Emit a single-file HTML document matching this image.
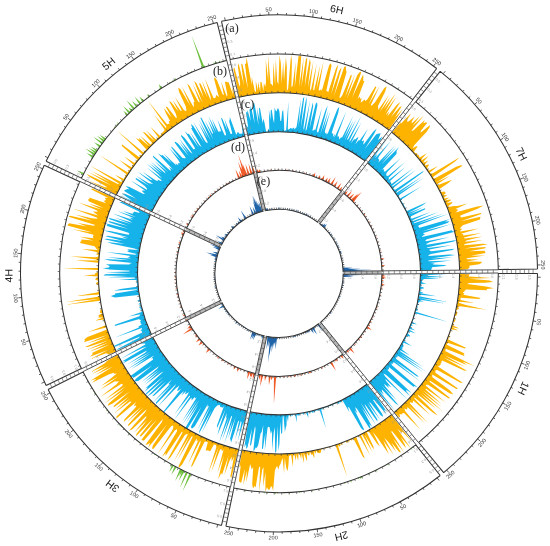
<!DOCTYPE html>
<html><head><meta charset="utf-8"><style>
html,body{margin:0;padding:0;background:#fff;width:550px;height:546px;overflow:hidden}
svg{display:block}
.tl{font-family:"Liberation Sans",sans-serif;font-size:5.5px;fill:#333;text-anchor:middle;dominant-baseline:central}
.cl{font-family:"Liberation Sans",sans-serif;font-size:10.5px;fill:#1a1a1a;text-anchor:middle;dominant-baseline:central}
.ll{font-family:"Liberation Sans",sans-serif;font-size:3.6px;fill:#999;text-anchor:middle;dominant-baseline:central}
.pl{font-family:"Liberation Serif",serif;font-size:12px;fill:#222;text-anchor:middle;dominant-baseline:central}
</style></head><body>
<svg width="550" height="546" viewBox="0 0 550 546">
<path fill="#6cbf3c" d="M362.6 476.1L362.3 478.2L360.6 476.9ZM413.2 446.8L413.3 448.1L412.1 447.6ZM411.8 447.9L412.4 449.7L410.8 448.7ZM388.2 463.5L388.6 465.6L387 464.2ZM384.3 465.7L384.2 467L383.1 466.4ZM377.1 469.5L377.3 471.5L375.9 470.1ZM375.7 470.2L375.8 471.7L374.5 470.7ZM369.6 473.1L369.8 475.3L368.4 473.6ZM362 476.3L361.7 477.3L360.8 476.8ZM360.9 476.8L361.1 479.2L359.6 477.3ZM359.1 477.5L359.2 479.5L357.9 478ZM351.4 480.4L351.5 482.8L350.1 480.8ZM345.2 482.4L345.1 484.3L344 482.8ZM312.9 490L312.5 491.8L311.6 490.2ZM301.7 491.5L301.2 493L300.4 491.6ZM300.3 491.6L299.8 493L299 491.7ZM290.3 492.4L289.7 494.4L288.9 492.4ZM284.7 492.6L284.1 494.1L283.4 492.6ZM278.6 492.6L277.9 494.1L277.3 492.6ZM276.3 492.6L275.6 494.4L275 492.6ZM268.4 492.4L267.7 494L267.1 492.3ZM264.8 492.2L264.1 493.7L263.5 492.1ZM246.1 490.2L245.1 492L244.8 490ZM191.3 474.4L182.5 491.6L189.3 473.5ZM187.9 472.8L179.7 488.1L185.9 471.9ZM184.6 471.3L178.6 481.1L182.6 470.3ZM181.9 470L175 481.2L179.9 469ZM183 470.5L179.2 476.3L181.4 469.7ZM176.6 467.3L171.3 474.7L174.6 466.2ZM173.9 465.8L169.3 471.9L172 464.8ZM220.5 484.7L219.3 486.3L219.2 484.3ZM176.9 467.5L175.6 468.5L175.8 466.8ZM171.8 464.7L170.1 466.3L170.6 464ZM166 461.3L165 461.7L164.9 460.6ZM155.4 454.5L154.4 454.9L154.3 453.8ZM145 447L144 447.3L144 446.2ZM129.6 433.9L128 434.7L128.6 433ZM122.2 426.6L120.6 427.2L121.2 425.7ZM120.9 425.3L119.2 426.1L120 424.4ZM109.8 412.8L108.6 412.9L108.9 411.8ZM108 410.6L106 411.3L107.1 409.6ZM95.6 393.5L93.7 394L94.9 392.4ZM94.6 392.1L93.4 392.1L93.9 391ZM89.2 383.2L88 383.1L88.5 382ZM83.1 174.9L77 170.6L84.1 172.9ZM92.5 158L86.6 153L93.7 156.1ZM94.1 155.4L85.3 148.4L95.3 153.6ZM95.3 153.6L88.8 147.9L96.5 151.7ZM96.5 151.7L90.7 146.4L97.8 149.9ZM99.5 147.4L94.1 142.2L100.8 145.6ZM101.7 144.3L93.2 136.8L103 142.6ZM103.4 141.9L97 135.7L104.8 140.2ZM104.8 140.2L99.6 134.8L106.1 138.4ZM126.6 115.7L123.3 110.7L128.2 114.2ZM128.7 113.6L123.1 106L130.3 112.1ZM130.9 111.6L128.6 107.5L132.5 110.1ZM133.1 109.6L126.4 100.3L134.8 108.1ZM135.9 107.1L131.9 100.7L137.6 105.7ZM139.4 104.3L134.4 96.4L141.1 102.9ZM142.2 101.9L139.4 96.6L144 100.5ZM148.2 97.4L147.2 94.2L149.9 96.1ZM160.4 88.9L158.7 84.1L162.3 87.7ZM202.3 67.9L191.6 35.5L204.4 67.1ZM215 63.6L215.5 61.2L217.2 63ZM91.8 159.1L90.6 157.6L92.5 158ZM93.9 155.7L92.7 154.1L94.6 154.6ZM98.5 148.8L98 147.6L99.3 147.7ZM101.4 144.7L101 143.6L102.2 143.6ZM103.1 142.4L101.9 140.7L103.8 141.4ZM103.8 141.4L102.7 139.7L104.6 140.4ZM105.2 139.6L104.4 138.1L106 138.5ZM114.7 128L114.1 126.6L115.6 127.1ZM117.2 125.4L116.4 123.8L118.1 124.4ZM118.1 124.3L116.9 122.3L119 123.3ZM130.1 112.3L129.6 110.8L131.1 111.5ZM132.8 109.9L132.7 108.7L133.8 109ZM146.2 98.8L146.2 97.7L147.3 98ZM159.7 89.3L159.3 87.5L160.8 88.6ZM169.4 83.4L169.2 81.8L170.5 82.8ZM172.8 81.5L172.4 79.5L173.9 80.9ZM175.2 80.2L174.7 77.8L176.4 79.5ZM191.3 72.4L191.4 71L192.5 71.8ZM204.1 67.2L204 64.9L205.4 66.8ZM213.8 64L213.8 61.8L215 63.6ZM218.9 62.4L219 60.2L220.2 62.1ZM224 61.1L224.4 59.9L225.3 60.7Z"/>
<path fill="#fdb300" d="M459.6 273.7 470 274.2 468.9 275.3 469 276.5 491.8 278.1 469.3 278.7 489.6 280.5 493.2 281.9 484.5 282.7 469.2 283.1 467.2 284.1 485.9 286.4 493.9 288.2 486.4 288.9 487.4 290.2 466.1 289.6 464.8 290.6 464.4 291.6 462.7 292.5 464.5 293.8 463.1 294.7 480.7 298 478.9 299 460.9 297.7 460.4 298.7 460.7 299.9 474.3 303 459.3 301.8 458.8 302.8 465.8 305.1 486.2 309.8 460.1 306.3 457.6 306.9 459 308.3 458.3 309.2 456.3 309.9 456.1 311 457.4 312.3 457.1 313.4 456.8 314.4 456.5 315.4 455 316.1 454.8 317.2 455.8 318.5 454.2 319.2 455.5 320.6 454.9 321.6 453.3 322.2 452.9 323.2 454.2 324.7 452.5 325.3 459.1 328.4 451.8 327.3 458.4 330.6 451.1 329.3 451 330.4 450.4 331.3 450.3 332.4 450 333.4 449.5 334.4 449 335.3 450.3 336.9 448.5 337.4 448.5 338.5 448.3 339.6 465.9 347.7 464.7 348.5 448.3 343 447.2 343.7 446.8 344.7 464.6 353.6 463.5 354.4 464.9 356.3 445.1 348.6 445.8 350.1 445.1 351 474.3 366 462.3 361.6 467.1 365.3 444.3 355.3 465.2 367.1 443.1 357.2 467 370.8 464 370.6 442.3 360.4 441.5 361.2 441.6 362.5 440.7 363.2 440.7 364.5 440 365.3 438.9 366 437.9 366.6 462.8 382.7 460.5 382.8 437.3 370 435.6 370.3 435.4 371.4 435.4 372.7 458 388.5 456.4 388.9 432.3 374.5 432.2 375.7 432.4 377.2 450 390.5 453.4 394.4 449.5 393.2 429.7 380.5 429.6 381.8 450.4 398.3 448.3 398.3 428.1 384.8 426.3 384.8 425.6 385.6 445.7 402.5 425.8 388.5 425.5 389.6 441.5 403.9 422.5 390 441.4 406.9 421.8 392.2 442.2 410.9 420.2 393.7 436 408.8 417.6 394.4 418.2 396.3 437.9 415.4 433.4 413 414.6 397.4 414.3 398.6 430.4 415.2 413.2 400.6 412.9 401.7 412.7 403.1 410.3 402.3 409.6 403.1 427.6 422.7 408.2 404.7 425.2 423.7 407.5 407.1 407.3 408.5 406.7 409.4 404.3 408.5 405.1 410.9 420.4 429.4 404 413 402.5 412.9 402.3 414.3 400.7 414.2 399.3 414.2 400.1 416.8 399.1 417.2 394.3 412.4A180.6 180.6 0 0 0 459.6 273.7ZM391.4 414.7 412 441.7 402.3 431.4 401.9 432.8 397.5 429 410.9 448.6 400.8 437.2 404.9 444.8 405.8 448.1 392.2 431.3 391 431.6 404 452.2 393 438.5 400.9 452.2 399.2 451.9 391.4 442.4 396 451.6 387.9 441.4 384.2 437.8 393.5 454.7 383.2 440.6 386.1 447.5 388.9 454.3 377.5 437.7 372.7 431.7 380 446.5 376.9 443.4 369.2 432.2 367.9 432.1 366.8 432.2 373.5 446.7 373.7 449.5 364.2 434 372.5 452.3 362.2 434.8 361 434.9 370.2 455.6 359.2 436.1 358.2 436.3 357.2 436.6 356.2 437.1 364.8 458.2 363 457 353.3 438.4 352.4 438.9 352 440.7 350.4 439.8 349.5 440.2 349.1 442.1 347.5 440.9 347.1 442.9 345.5 441.8 344.6 442.2 343.5 442.4 342.6 443 342.1 444.8 340.6 443.8 340.3 445.9 339.3 446.4 337.6 444.6 347.3 476.9 335.6 445.4 334.6 445.6 333.6 446.1 332.6 446.3 331.6 446.7 330.5 446.9 329.5 447.3 328.5 447.6 327.5 447.9 326.5 448.1 325.5 448.4 324.4 448.6 323.4 448.8 322.4 449.3 321.3 449.3 320.9 452.3 320 453.2 318.8 452.8 317.9 453.3 316.2 450.5 315.7 453.7 314.1 451.1 314.4 458.3 312.5 454.2 311.6 454.9 309.9 451.7 309.4 454.9 308.4 455.6 306.8 452.3 307.1 461.5 305.4 457 303.7 452.9 304 463.2 301.6 453.2 301.2 459.1 299.5 453.6 298.5 453.9 298.1 460.7 296.4 454 295.9 460.6 294.3 454.8 293.2 454.9 293 467 291.1 455 290.1 455.4 289 456.3 288.4 465.6 287.5 471.2 286.3 467.9 284.8 457.7 284.1 473.2 282.6 457.9 281.6 460.5 280.5 463.9 279.4 465.7 278.3 469.8 277.2 466.1 276 467.4 274.8 471 273.1 490.9 272 486.5 270.8 486.4 269.4 489.8 268.1 489.6 267 487 265.4 491.8 265.5 472 263.2 486.7 263.5 467.2 262.2 469.5 259 491.7 260.2 466.5 259 467.3 255.6 487.5 254.5 485.7 253 488.4 252.2 484.3 253.2 467.1 251.7 469.5 251 466.8 250.2 464 246.2 482.6 246.9 470.4 243.3 484.9 244.8 468.8 241.1 483 240 481.9 238.9 481.2 240.7 465.6 239.2 467.2 242.2 450.2A180.6 180.6 0 0 0 391.4 414.7ZM238.5 449.3 231.3 478.1 230.4 476.4 234 456.6 231.6 461.7 231.7 456.7 229.5 460.7 224.4 475.1 228.6 455.6 222 474.8 221.2 472.9 218.1 479.2 223.9 455.6 217.4 473.1 223.6 449.4 221.9 451.2 221.4 449 220.1 449.5 211.2 472.3 218.6 447.1 208.1 473.5 216.3 447.2 216 445 214.9 444.8 213.9 444.4 210.3 450.9 209 451.2 208.2 450.2 206.8 450.6 205.7 450.4 207.8 442.3 206.9 441.7 205.9 441.4 204.6 441.8 192.7 465.5 190.8 466.9 200.6 442.6 200.4 440.5 187.8 464.5 198.2 440.2 196.6 440.9 196.7 438.2 182.3 464.3 179.2 467.6 178.5 466.2 192.8 436.4 191.5 436.5 177.5 460 190 434.9 174.1 461 187.9 434.2 186.7 434.1 184.9 434.9 170.5 457.2 167.1 460.4 182.6 432.4 182 431.4 165.4 455.9 165.8 453.1 161.9 456.9 177 431.2 177.1 428.9 174.7 430.6 157.3 454.5 172.6 429.8 173.4 426.7 172.8 425.6 171.1 426.2 153.6 448.7 152 448.8 152.8 445.6 167 424.4 148.1 447.7 150.1 442.9 147.4 444.5 145.5 444.8 161.9 421.9 162.8 419 143.8 440.8 142.7 440.2 141.3 439.9 156.8 419.4 141 436.4 139.6 436.1 153 418.7 136.1 436.3 136.4 434.1 147.5 419.8 134.1 432.8 146.2 417.7 146.3 416 132.3 429.2 129 430.8 145.3 412.1 146.6 409.2 128.2 426.3 128.2 424.5 143.5 407.5 127.2 421.9 141.4 406.5 123.6 422 124.6 419.3 136.4 406.5 135.8 405.5 133.7 405.9 136.2 402.1 116.3 418.4 116.5 416.5 131.6 401.7 130 401.6 114.7 413.1 130.2 398.4 115.2 409.3 129 396.4 113.9 407.2 113.6 405.9 129.6 391.6 112.7 403.4 107.7 405.7 108.7 403.4 124.4 389.9 104.4 403.5 126.1 385.9 105.3 399.6 122.4 385.8 122.7 384.2 121.5 383.7 100.6 396.8 116.6 384.3 119 381.3 116.8 381.4 114.9 381.3 99.8 389.7 117.9 376.7 101.1 386 111.4 378.1 116.8 373.4 114.1 373.7 113.7 372.7 108.6 374.4 92.1 382.7 96.4 378.7 90.8 380.5 113 366.6 95.1 375.2 109.1 366.2 92.2 374 105.3 365.7 90.8 371.9 104.8 363.3 107.2 360.8 117.8 354.8A180.6 180.6 0 0 0 238.5 449.3ZM116.1 351.4 108.7 354.4 107.5 353.7 106 353.2 90.6 359 107.8 349.9 89.8 356.7 92.9 354 92 353.1 109.6 344.4 89.2 351.7 108 342.8 86.7 350.1 107.9 340.5 87.7 347.1 85 346.9 107.2 337.3 87.1 343.5 107.3 335 83.8 342.2 85 340.5 84.3 339.4 87.5 337.1 106.4 329.7 106.2 328.6 106 327.6 88.1 332 105.2 325.6 105.2 324.5 104.9 323.5 104.5 322.5 104.2 321.5 103.8 320.5 103.9 319.4 95.1 320.5 103.2 317.4 98.1 317.5 99 316.2 98.4 315.2 102.4 313.2 99.8 312.7 100.2 311.5 100.1 310.4 101.7 309 101.4 308 101.3 307 101 305.9 100.9 304.9 100.7 303.8 100.5 302.8 100.4 301.8 100.2 300.7 65.9 304.7 97.9 298.9 65.9 302.1 97.8 296.8 99.4 295.5 99.3 294.4 76.4 295.9 97 292.5 99 291.3 98.7 290.2 98.7 289.2 98.6 288.1 98.5 287.1 98.4 286 98.2 285 96.2 284 96 283 98.1 281.8 98.1 280.7 95.5 279.8 95.2 278.7 98 277.6 97.8 276.5 83.7 275.6 95.1 274.4 95.2 273.3 97.7 272.3 98 271.2 97.8 270.1 62.5 268.3 97.9 268 97.7 267 98.1 265.9 98 264.9 98.1 263.8 98.1 262.7 74.8 260.2 98.4 260.6 95.1 259.3 70.1 256.2 95.8 257.2 98.3 256.4 98.4 255.3 95.8 254 98.7 253.2 95.5 251.8 81.7 249 97.9 249.9 96 248.6 95.6 247.4 94.5 246.2 80 242.9 80.5 241.7 81.5 240.7 81.3 239.5 93.5 240.5 79.7 236.8 93.8 238.3 92.7 236.9 93.3 235.9 93.5 234.8 72.6 229.3 92.6 232.4 67.4 225.5 68 224.4 69.1 223.3 87 226.4 77.5 222.9 93.9 225.8 95.3 225 68.6 216.7 70.1 215.8 92.7 220.8 75.2 214.6 91.7 218.2 97.4 218.7 96.8 217.4 73.3 208.8 98.3 215.5 95.2 213.3 93 211.4 97.8 211.8 96.6 210.2 78.4 202.6 102 209.8 89 203.8 103.6 208 88.8 201.2 88 199.6 89.7 199 89 197.5 106.2 203.2 103.5 200.8 105.4 200.4 105.9 199.5 104.7 197.7 108.1 198 91 189.2 92.4 188.5 114.8 198.1A180.6 180.6 0 0 0 116.1 351.4ZM116.4 194.7 88.9 180.7 105.1 187.3 107.5 187.2 89.1 176.6 86.7 174 111.4 185.5 88.4 172 109.9 182.2 91.7 170.9 118.2 184.2 118.9 183.4 89.8 165.6 121 182.1 122.1 181.5 122.7 180.7 114.9 174.7 123.9 178.9 124.1 177.8 124.8 177 125.6 176.2 125.9 175.1 126.3 174.1 99.7 155.3 127.9 172.6 128.2 171.6 128.7 170.6 129.7 170 130.1 169 119.3 160 131.4 167.3 132.1 166.5 132.6 165.5 133.4 164.8 124.3 156.6 134.5 163 135.1 162.1 135.9 161.4 136.5 160.5 137.4 159.8 121.9 145.9 121.8 144.3 138.9 157 140 156.5 140.2 155.3 141.4 154.9 142.2 154.2 117.1 130.7 143.2 152.2 144.1 151.7 144.7 150.7 145.5 150 146.4 149.4 135.7 137.8 139.6 139.9 139 137.8 149.2 146.2 140.2 135.8 150.5 144.5 151.3 143.8 152.1 143.1 142.7 131.8 145.2 132.8 154.7 141.2 146 130.3 156.2 139.7 156.6 138.6 157.5 138 158.1 137.1 150.4 126.7 159.8 135.7 160.8 135.3 161.1 134 161.8 133.1 162.6 132.5 163.3 131.6 164.1 130.9 164.6 129.8 154.3 115.1 165.8 127.9 166.5 127 147.7 100.6 167.2 124.4 168.1 123.7 169.5 123.9 168.8 121 170.1 121 165.9 113.2 163.8 108.1 171.7 117.5 165.6 106.6 167.3 106.9 176 117.9 176.9 117.4 175.7 113.5 169.2 101.3 171 101.9 178.6 111.8 172.7 100.2 180.5 110.7 181.9 110.8 175 96.9 183.9 109.9 186 111.3 186.4 109.9 185.8 106.4 179 91.8 178.2 87.8 180.3 89.1 190.5 105.9 181.5 86.1 193.7 107.3 193.9 105.2 193.6 102.1 194.6 101.7 187.1 83.6 189.6 86 198.2 101.4 199.9 102.4 192.7 84.1 202.7 103.2 194.1 81.1 196.3 83 203.7 97.4 199 83.3 200.5 83.6 207.4 97.5 201.8 80.6 210.9 100.4 210.5 96.2 204.9 78.5 213.5 98.1 214.8 98.3 215.7 97.6 216 95.1 217.4 95.8 219 97.2 214.1 79.1 214.8 77.3 217 80.2 222.6 94.2 224 94.9 221.1 81.4 226.8 96.6 227.4 94.9 225 82.3 225.9 81.4 227.3 82.2 228.6 82.3 233 94.7 232 86.4 235.5 98.1A180.6 180.6 0 0 0 116.4 194.7ZM239.1 97.2 233.4 69.1 234.3 67.4 239.6 86.8 240.2 84.1 237.9 66.5 238.5 63 243.9 85.2 241.1 63.6 242.5 64.4 247.9 88.8 245 64.3 246.1 63.5 246.5 57.3 251.8 85.1 251.7 76.8 254.9 91.6 256 91.7 255.7 80.6 258 90.8 258.1 81.7 260.2 91.4 260.4 82 261.5 81.9 263.4 91 263.9 83 265.3 86.9 266 81.7 265.8 59.4 268.3 81.5 268.1 55.4 270.6 84 271.7 84.2 272.9 86.2 273.4 62.3 275.1 85.4 275.8 59.3 277.2 81.5 278.4 84.5 279.5 55.4 280.8 62.8 281.7 83.3 283.2 61.8 284 81.6 285.9 57.3 286.8 66.5 286.9 91 288.1 88.7 291.1 54.6 291.9 61.3 291.4 87.3 292.6 86.1 295.7 61.5 294.7 87.5 298.7 54.9 299.9 56.5 301.3 55.2 299.1 87.4 303.8 56.2 301.4 86.9 306 58.5 307.3 58.3 304.7 87 309.8 58.8 310.6 62.4 307.9 87.8 313.4 60.7 310 88.3 310.7 90.9 316.7 63.7 313.1 89.7 314.1 90.4 320.3 64.5 316.4 89.9 323.7 60.7 318.6 90.2 319.7 90.5 321.1 89.2 321.8 90.8 329.2 64.9 330.9 63.3 331.5 66.1 326.3 91.1 327.4 91.2 328.2 92.3 336.1 68 338.4 64.4 331 94.5 339.2 70.7 341.7 67 333.9 96.2 344.3 66.8 345.8 66.3 346 70 346.6 71.9 339.4 96.9 340.1 98.3 342.3 95.2 351 74.5 351.8 75.8 345.1 97.1 355.2 73.9 346.9 98.8 357.4 75.1 360.2 71.5 361.2 72.4 351.9 98 363.1 74.4 363.4 76.8 363.1 80.8 364.4 80.9 357.7 98.7 359.9 96.4 360.1 98.7 361.6 98.2 360.7 102.7 362.6 101.3 364.7 99.6 365.3 101 367.3 99.6 375.3 86.6 376.4 87 368.6 104.4 379.7 86.1 370.6 105.4 371.8 105.5 374.8 102.4 384.3 88 386.6 86.5 385.2 91.5 378 106.1 378.2 107.9 378.2 110.1 389 94.7 379.7 111.9 390.6 96.7 383.8 109.6 395.7 93.3 384.7 112.4 396.6 96.6 385.5 115.3 389.3 111.6 387.3 116.5 396.9 104.8 400.4 101.9 391 117.1 399.8 106.9 401.7 106.3 394.8 117.7 402.6 109.2 394.5 121.8 388.9 130A180.6 180.6 0 0 0 239.1 97.2ZM391.9 132.4 401.2 121.7 400.6 124.1 411.3 113 407.4 119.5 407 121.8 409 121.3 414.7 116.5 411.5 122 411.9 123.3 419.8 116.2 412.3 126.3 423.9 115.4 411.4 130.7 413 130.7 424.8 119.9 423.3 123.3 426 122.2 427.1 122.9 420.7 131 420.8 132.6 430.1 125.1 429.6 127.3 426.9 131.6 414.4 145 412.6 148.3 416.3 146.3 417.6 146.6 414.1 151.3 414.5 152.3 415.2 153.1 416.8 153.1 416.8 154.5 418.1 154.8 418.9 155.6 419.2 156.7 419.7 157.6 426.8 153.3 421.6 158.9 421.7 160.2 428.6 156.1 423.8 161.2 423.5 162.8 428.2 160.5 425 164.3 425.3 165.4 428.7 164.2 428.6 165.7 426.9 168.2 427.9 168.8 428.5 169.7 428.7 170.8 437.9 165.9 429.9 172.6 430.6 173.4 431.6 174 459.6 157.3 455.1 161.6 433.3 176.7 433.3 177.9 434.5 178.5 456.2 166.7 460.8 165.3 462.5 165.7 436.1 182.4 449.6 175.9 437.1 184.3 437.6 185.2 445.9 181.9 452.2 179.8 448 183.3 439.5 189 440.2 189.9 440.8 190.7 440.9 191.9 444.4 191.4 445.1 192.2 445.9 193 442.7 195.7 447.5 194.7 444.1 197.4 444.6 198.4 449.3 197.4 445.1 200.5 449.7 199.6 451.3 200.1 446.6 203.3 452.3 202.1 452.1 203.3 448 206.2 448.5 207.1 454.2 206 457.6 205.9 467.4 203.5 455.4 209.1 457.7 209.4 457.8 210.6 455.4 212.6 476.3 206.7 483.5 205.6 477.6 208.8 460.4 215.6 460.3 216.8 461.6 217.5 480.8 213 481.2 214.1 460.7 221.3 480.6 216.8 480.1 218.3 479.9 219.6 462.7 225.3 461.4 226.8 459.6 228.4 462.3 228.8 460.4 230.4 460.2 231.6 478.7 228.6 460.9 233.7 463.2 234.3 463.2 235.4 481.3 232.9 464 237.5 464.5 238.5 482.4 236.4 466.2 240.5 465.2 241.8 482.8 240 464.7 244.1 464 245.3 482.6 243.7 487.8 244.2 464.5 248.5 485.5 247 485.4 248.2 468.9 251.3 484.6 250.7 485.2 251.9 485.5 253.1 470.7 255.7 485.1 255.5 466.6 258.2 466.9 259.3 478.7 259.6 466.4 261.6 481.9 261.8 481.4 263 479.1 264.3 469.1 265.8 469.6 266.9 469.2 268.1 467.2 269.2 459.6 269.9A180.6 180.6 0 0 0 391.9 132.4Z"/>
<path fill="#16b3eb" d="M420.5 273.6 447.3 274.1 428.8 274.9 427.3 275.8 444.1 277 424.5 277.4 439.6 278.8 424.4 279.1 422.4 279.9 422.1 280.7 421.9 281.5 422.3 282.4 426.5 283.5 421.1 284 420.9 284.8 420.7 285.6 420.4 286.4 423.7 287.6 423.8 288.5 420.4 288.9 420.3 289.8 420.1 290.6 420.3 291.4 423.4 292.7 419.9 293.1 436.4 296.3 419.6 294.7 419.2 295.5 419.3 296.3 447.4 302 418.9 298 445.1 303.6 418.5 299.6 423.7 301.4 419.6 301.5 419.4 302.3 418 302.9 417.7 303.6 419 304.8 417.2 305.2 417 306 418.2 307.2 416.7 307.7 416.6 308.5 417.8 309.7 417.5 310.5 415.8 310.9 415.7 311.7 448.1 321.9 415.1 313.3 415.1 314.1 414.8 314.9 414.6 315.7 414.2 316.4 414.1 317.3 413.7 318 413.6 318.9 413.4 319.7 412.8 320.4 412.8 321.2 412.3 321.9 417.2 324.6 411.8 323.5 411.7 324.4 412.7 325.6 411.2 326 410.6 326.6 410.6 327.5 414.9 330.2 409.7 328.9 409.4 329.7 415.7 333.4 408.8 331.2 408.5 332 408.6 333 407.8 333.5 409.9 335.4 410 336.4 407 335.9 406.6 336.6 406 337.3 406.1 338.3 405.5 338.9 405.1 339.6 404.6 340.3 404.1 341 412 346.3 403.9 342.8 403.2 343.4 403 344.2 403.3 345.3 403.4 346.3 403.1 347.2 402.2 347.6 402.5 348.7 401.9 349.4 409.8 355.4 400.1 350.2 400.2 351.3 423.2 367.3 399.6 353 426.2 371.7 398.3 354.1 423.1 372.1 397.5 355.6 397.5 356.6 397.2 357.5 395.5 357.3 396.3 358.9 418.8 376.6 417 376.5 393.8 360.2 420.7 381.8 393.5 362.1 393.2 362.9 392.8 363.7 391.3 363.6 392 365.3 417.7 387.5 414.1 385.9 413.7 386.9 388.8 366.9 389 368.2 388.8 369.2 387.7 369.4 387.8 370.6 411.7 393.3 406.5 390 406.1 391 410.1 396.1 385.9 374.7 383.5 373.6 385 376.2 407.9 399.9 385.4 379 385.8 380.6 391.4 387.6 387.5 385 389.2 388.1 383.9 383.8 385.5 386.8 396.8 400.4 382 385.7 398.8 405.5 395.6 403.5 381.9 389.6 381.9 391 383.9 394.7 378.7 390 394.8 410.5 379.7 394.1 369.3 382.3A141.5 141.5 0 0 0 420.5 273.6ZM367 384.1 377.6 398.2 386.4 410.9 383.9 409.4 386.7 414.7 374.5 400.3 372.7 399.4 382.3 414 383.1 416.8 380.9 415.5 370.7 403 369 402.1 380.3 420 367.1 402.6 377.3 419.3 377.4 421.4 364.7 403.9 365.6 407 375.9 424.8 360.7 402.8 370.9 420.8 361.8 407.8 372.2 426.9 369.3 424 370.6 428.3 369.4 428.3 357.1 409.1 354.9 407 357.4 413.2 354.6 410.1 364.1 429.5 363.3 430.3 361 428.1 349.1 407.5 347.8 406.9 349.6 412.4 342.6 400.5 341.8 400.6 341.1 401.1 340.9 402.7 339.5 401.6 339.4 403.4 338.6 403.7 337.2 402.7 336.5 403.1 335.7 403.4 335 403.7 334.2 404 333.5 404.5 332.7 404.8 332 405.1 331.2 405.5 330.5 405.9 329.7 406.1 328.8 406.3 328.1 406.7 327.3 406.9 326.6 407.3 325.7 407.3 325 407.8 324.2 408 323.4 408.2 322.5 408.3 322.2 410.1 321 408.9 326.1 428.6 319.4 409.4 318.6 409.7 318.2 411.1 317.1 410.3 316.2 410.5 315.4 410.7 315 412.3 313.8 411.1 313.4 412.7 312.5 412.8 311.4 411.4 310.9 413.1 309.7 411.8 309 412.2 308.1 412.3 308.4 417.7 306.8 414.2 305.7 412.8 304.9 413.1 304.1 413 303.5 414.9 302.4 413.3 301.6 413.5 300.8 413.5 300 413.9 299.4 415.4 298.6 415.6 297.7 415.4 296.7 414.2 296.8 422.4 295 414.3 294.2 414.7 293.4 414.5 292.7 416 291.7 414.7 291.1 416.7 290.1 415.2 289.3 415.4 288.5 415.5 288 422 286.8 415.9 286.5 425.4 285.7 427.8 284.9 432.3 283.5 416.1 282.7 416.7 282.2 433 281.2 434.1 280.2 421.5 279.4 443.9 278.4 450.9 277.6 425.7 276.3 451.4 275.2 452.9 274.8 427.2 273.8 432 272.1 450.5 272 430.6 270.9 434 270.2 430.5 269.5 426.9 268.6 426.7 267.6 427.4 264.8 451.1 265.3 433 263 448.5 261.9 449.2 263.3 424.9 261.7 431.9 260.6 433.4 258.2 445.1 256.8 447.9 255.9 447.3 254.4 450.1 253.3 450.9 255.5 429.3 255.1 426 251 445.4 250 445.3 251.9 428.5 247.5 447.2 246.2 449 246.1 444.1 244.3 447.5 247 429.1 250.2 411.9A141.5 141.5 0 0 0 367 384.1ZM247.3 411.2 243.5 425.7 243.5 421.8 237.8 441 241.5 422.3 240.9 420.9 235.1 439.5 239.2 420.6 238 421.6 231.1 442.5 230.7 440.4 230.1 438.5 235.6 416.9 227.9 438.9 232.6 420.6 224.2 443.8 232.1 416.5 231.3 416.1 222.1 440.3 229.1 416.9 219 442.7 226.6 418.6 226.2 417.3 226.8 413 217.4 435.2 219.3 427.5 225.6 409 217.1 427.9 216.9 425.8 223.9 406.3 222.4 407.8 221.7 407.3 220.8 407.1 220.1 406.7 220 404.9 218.9 405.2 218 405 216.5 406.2 214.6 408.2 201.9 432.5 211.4 410.8 198.9 433.8 199.5 430.4 210.4 406.8 197.4 429.9 209.2 405.4 207.4 406.9 207.8 404.3 194.6 426.4 192.4 428.2 191.2 428.3 191.1 426.3 201.5 406.5 187.2 428.9 186.5 428.1 185.4 427.8 198.3 404.7 185.4 423.8 199.5 399.5 182.3 424.8 197.5 399.4 182.2 421.2 196.6 397.6 195 398.4 194.8 397.1 191.5 400.4 191.7 398.5 191.2 397.7 174 420.3 190.1 396.2 189.5 395.5 174.4 414.4 187.3 395.5 188.9 391.9 186.3 393.8 184.9 394.2 186.2 391.1 181.5 395.5 184 391.1 180 394.5 163.9 412.5 163.1 411.9 181.4 388.6 178.6 390.5 177 391.1 177.9 388.7 179.5 385.5 175.3 388.8 157.5 407 174.8 386.6 176.1 384 156.1 403.9 155.9 402.6 172.5 383.8 152.9 402.7 169.7 384.2 168.3 384.3 172 379.4 154.4 395.4 152.1 396.2 166.2 381.2 151.7 393.7 147 396.6 164 379.5 145.6 395.1 145.9 393.4 163.3 376.5 144.3 392 148 387.4 145.3 388.4 163.6 371.5 160.6 372.9 144.6 384.9 160.8 370.3 143.4 383.3 158.9 369.6 141.6 382.1 157.3 368.5 158.8 366.3 138.1 380.9 135.9 381.3 134.2 381.3 135.9 378.7 152.6 365.3 132.9 378.3 133.2 376.8 131.1 377 130.5 376.1 153.1 359.4 153 358.3 151.2 358.5 154.1 355.5 131.3 369.3 147.6 357.6 127.1 369.5 151.1 353.3 130.3 365.1 150.2 351.8 127.6 364.3 145.5 352.5 147 350.6 122.6 363.6 125.4 360.8 122 361.5 146.6 346.7 142.3 348 121.2 358.4 145.3 344.4 145.2 343.5 142.9 343.6 140.1 344.1 152.7 337.2A141.5 141.5 0 0 0 247.3 411.2ZM151.4 334.5 118.9 349.5 116.5 349.5 138.7 338.1 140.1 336.5 114.4 347 114.4 345.8 142.2 332.6 141.9 331.8 141.8 330.9 140.6 330.5 142 329 141.9 328.1 114.6 337.8 138.9 327.4 138.5 326.6 141.7 324.5 141.1 323.8 140.3 323.1 140.9 322 140 321.4 141.1 320.1 139.4 319.8 139.4 318.9 114.8 325.9 114.9 324.8 139.2 316.3 139.8 315.2 140.3 314.2 128.9 316.6 141.5 312.1 141.6 311.2 141.9 310.3 141.5 309.5 139.3 309.2 141.1 307.9 138.9 307.6 140.8 306.2 140.7 305.4 140.4 304.6 138.1 304.3 140 303 140 302.2 139.9 301.4 136.9 301.1 139.5 299.7 139.4 298.9 139.2 298.1 138.9 297.3 139 296.4 138.8 295.6 138.2 294.9 115.1 297.4 112.6 296.8 110.8 296.1 115.2 294.5 115 293.6 136.7 290 136.9 289.2 113.8 290.8 120.6 289.1 136.9 286.7 137.3 285.8 137 285 137.3 284.1 136.8 283.3 136.6 282.5 136.9 281.6 136.4 280.8 136.3 280 118.3 279.9 135.6 278.4 134.3 277.6 107.2 277.3 128.2 276 103.5 275.4 105.1 274.3 131.6 273.3 105.2 272.3 128.9 271.6 130.2 270.7 109.3 269.4 102.9 268.2 108.7 267.4 109.7 266.4 108.6 265.4 105.9 264.2 129.5 264.6 129.7 263.7 132.1 263 109.4 260.4 104 259 129.9 260.2 107.4 257.2 131.1 258.6 127.4 257.3 129.5 256.7 130.3 255.9 106.2 252 135.3 254.8 136.5 254.1 128.5 252.1 127 251 129.1 250.4 127.1 249.2 138.1 250.1 134.5 248.6 112 243.7 107.2 241.9 124.8 244.1 104.4 239.2 106.8 238.7 123 241 105.6 236.3 107.6 235.7 127.4 239.1 120.8 236.6 128.6 237.5 103.6 230.5 109.9 231 128.4 234.7 129.5 234 128.4 232.8 106.4 225.8 107.7 225 105.5 223.3 128.3 229 109 222.2 108.6 221 128.2 226 109.8 219.2 108.8 217.8 131 224.1 114.3 217.4 132.6 222.7 127.8 220 112.7 213.6 133.2 220 129.1 217.5 133.8 218.3 117.3 210.9 136.1 217.2 122.8 210.9 133.1 214.1 132.5 212.8 133.8 212.4 134.1 211.5 139.6 212.9 138.9 211.6 119.3 201.9 122.3 202.1 150.4 214.4A141.5 141.5 0 0 0 151.4 334.5ZM151.6 211.7 119 195.3 132.2 200.7 126 196.5 122 193.4 125.4 194 136.1 198.4 124.6 191.3 124.3 189.9 126.1 189.8 127 189.1 129.4 189.3 125.5 185.9 129.5 187 142.9 193.7 145 193.9 141.6 190.8 143.2 190.6 145.3 190.8 130.6 180.6 146.9 189.7 147.1 188.7 144.8 186.1 135.5 178.9 136.1 178.1 149.1 185.7 136.5 176 148.9 183.3 150.7 183.4 153.1 184 137.7 171.8 150.7 180.1 152.6 180.2 142.9 171.9 155.9 180.5 158.1 181 157.4 179.4 160.8 180.9 161.8 180.6 146.8 167.4 162.4 178.8 158.2 174.2 146.6 163.4 161.6 174.7 149.5 163.2 162.4 173 150.9 161.8 165.6 173.4 164.7 171.4 154.4 160.9 168.2 172.2 153.1 157.1 153 155.5 170.7 170.9 170.6 169.6 169 166.9 172.9 169.4 157.8 153.2 161.4 155.5 162.4 155.1 171.5 163.1 163.4 153.3 176.4 165.6 175.4 163.2 178.4 165.2 177.8 163.2 179.1 163.3 180 163.1 177.9 159.4 169.3 148.3 180.6 159.7 171.3 147.5 171.6 146.4 182.8 158.3 183.7 158 185.3 158.6 185.6 157.6 174.6 142.5 175.3 141.7 178 143.6 188.7 155.9 179.1 141.9 188.5 152.8 179.4 139 190.3 152.3 192.5 153.8 180.9 136.1 181.3 134.9 184.5 137.8 193.7 149.4 194.5 149.1 195.2 148.5 184.7 131.1 187.7 133.9 188.8 133.8 198.7 147.4 190 132 199.2 145.1 201.7 147.3 191 128 192.3 128.3 190.9 123.9 193.3 126.1 204 142.8 193 121.5 205.5 141.7 207.3 143.3 207.6 141.9 198.5 123.1 207.8 138.5 198.6 119.1 210.7 140.4 200.3 117.8 201.4 117.7 213.3 139.6 204.9 120.4 212.5 134.1 213 132.9 207.9 119.7 215.2 133.4 208.4 116 216.7 132.3 211.7 118.4 218.4 131.7 219.3 131.5 220.3 131.6 221 130.8 217.4 119.4 224.7 135.3 225.7 135.6 226.1 134.2 220.9 117.7 222.2 118.5 227.5 130.4 224.3 118.7 230.7 134.1 231.5 134 232.2 133.3 229.1 121.1 229.7 119.8 229.8 117.1 236.2 134.4 236.9 133.9 237.3 132.4 238.1 131.9 239.5 133.7 240.4 133.8 241.2 133.4 242.2 133.9 242.5 131.9 241.5 124.2 244.9 136A141.5 141.5 0 0 0 151.6 211.7ZM247.8 135.3 245.8 124.5 247.1 126.5 248.2 127.3 245.8 111.4 247.1 112.9 247.5 110 250.6 121.1 249.4 109.5 250.3 108.9 250.8 106.1 254.6 123.3 253 107.2 253.3 102.5 254.4 103.4 258.5 125.2 257 107.4 259.6 120.2 259 107.7 260 108.2 262.7 123.5 263.1 118.7 264.3 121.8 266.1 131.5 266.9 131.4 267.7 131.4 268.3 128.5 269.3 130.5 268.9 109.6 270.4 119.9 270.8 110.3 271.7 109.5 273.1 119.1 274.1 123.3 274.6 107.6 275.6 110.5 276.6 111.5 277.5 108.6 278.4 108.5 279.4 111.6 280.3 121.1 281.2 120.8 282.2 111.5 283.2 110.1 283.9 120.3 284.3 131.3 285.2 130.6 286.1 129.9 288.5 101 287.8 129.3 288.6 129.5 289.5 129.1 290.4 128.1 291.3 128.2 292.1 128.7 293 128.3 293.9 127.4 294.5 129.6 295.6 128.1 296.5 127.3 301 98.5 298.3 127.3 303.1 98.3 304.3 97 300.7 128.2 306.5 96.6 306.6 102.4 303.4 128.1 303.9 130 310.2 99.5 305.5 130.9 306.6 129.6 312.8 102.4 313.2 105.8 309.4 128.8 315.7 103.7 317 102.3 317.4 105.2 312.4 130.8 313.4 130.5 314.5 129.6 315.3 130.1 322 107.4 316.8 131 317.4 132.2 318.2 132.5 325.5 109.9 327.8 105.5 320.4 134 328.6 109.8 323 131.3 330.3 111.3 324.8 131.3 325.1 133.4 326.3 132.4 326.5 134.5 327.9 133.2 337.4 108.9 339.3 106.7 338.3 112.5 331.7 132.8 332.4 133.4 333.3 133.7 332.9 137.1 335 134.1 334.4 137.8 346.5 111 337.7 134.5 337.6 136.8 338.9 136.2 339.1 137.8 339.3 139.5 341.5 136.8 341.7 138.3 353.3 115.8 343.5 138.6 353.6 119.9 344.5 140.7 356.3 119 347.1 139.3 347.9 139.7 361.5 115.5 349.6 140.2 349.6 142 361.3 122.5 350.8 143.5 354.6 138.4 354.7 140.1 357.2 137.6 358.5 137.2 355.3 144.3 358.9 140.1 359.7 140.5 368 128.8 361.7 140.8 362.4 141.3 364.2 140.3 363.3 143.4 363.6 144.5 373.2 131.7 376.7 128.4 374.4 133.4 364.7 149.3 376.3 134.2 377.8 133.8 379.3 133.4 380.7 133.3 379.5 136.6 377.9 140.3 382.1 136.4 381.1 139.4 365.1 161.1A141.5 141.5 0 0 0 247.8 135.3ZM367.4 162.9 387.6 138.5 374 156.8 377.3 154.1 375.1 158.2 390.8 141 378.9 156.4 378.1 158.8 378.8 159.3 379.3 160.1 378.4 162.4 395.2 145.2 382 161.1 397 146.2 381 164.8 399.1 146.9 396.5 151.1 396.7 152.4 396.4 154.1 382.3 169.6 383.9 169.2 384 170.3 383.9 171.6 385.3 171.4 400.8 157.9 386.8 172.4 386.3 174.1 386.2 175.3 386.9 175.8 388 176 405 162.1 388.4 177.9 389 178.5 388.6 180 405.4 166.9 390.3 180.7 390.4 181.7 391 182.4 391.2 183.2 391.6 184 413.7 167.7 392.1 185.8 392.5 186.5 416.5 169.4 393.2 188.1 393.7 188.7 394.2 189.4 395.2 189.7 422.4 171.4 423.9 171.6 396.2 192.1 396.6 192.8 422 176.6 397.7 194.1 423.9 177.8 398.4 195.6 398.8 196.3 399.4 197 399.5 197.9 400.1 198.4 421.6 186.3 400.7 200 401.1 200.7 401.7 201.4 402 202.2 402.5 202.8 403.1 203.5 403.5 204.2 403.7 205.1 404.2 205.7 404.6 206.4 405.1 207.1 405.5 207.9 405.6 208.7 406.1 209.4 406.4 210.2 406.9 210.9 426.6 202.3 422.6 205.2 407.8 213.2 423.6 206.9 408.9 214.5 425 208.2 425.3 209.2 410.1 216.7 410.7 217.4 411.1 218.1 411.6 218.8 430.5 212.1 411.9 220.5 413 221 438.5 212.1 413.9 222.4 414 223.3 443.6 213.4 416.9 224 448.6 213.8 418.8 225.2 418.1 226.4 419.3 226.9 418.8 227.9 449.9 218.9 444.9 221.6 449.6 221.2 447.5 222.9 421.9 231.5 451.7 223.9 423.4 232.9 423.3 233.8 425.1 234.2 422.4 235.9 421.9 236.9 451.8 230.3 452.6 231.2 454.7 231.8 426.9 239.3 425.3 240.5 426 241.3 449.8 237.1 429.5 242.3 426.2 243.9 426.8 244.7 456.4 240 454 241.5 426.6 247.4 427.6 248.1 452.5 245 429.4 249.6 429.6 250.5 430.9 251.2 454.4 248.8 452.4 250.1 431.1 253.9 428.7 255.1 428.5 256 449.5 254.6 455.2 255 430.8 258.4 452.7 257.3 428.4 260.4 428.6 261.3 451.2 260.5 430.1 263 434.7 263.5 432.5 264.6 444.1 264.9 446.8 265.7 431.7 267.3 432.3 268.2 431 269.1 431.7 270 420.5 270.7A141.5 141.5 0 0 0 367.4 162.9Z"/>
<path fill="#f05a28" d="M382 274.8L385.6 276L381.9 277.1ZM382 276.5L386.2 277.9L381.9 278.8ZM381.5 283.5L385.1 285.1L381.2 285.8ZM376.5 306.4L377.8 308.1L375.8 308.6ZM367.5 326.1L371.7 330L366.3 328.1ZM361 335.7L362 337.9L359.6 337.5ZM350.6 347.4L354.6 353.4L348.9 349ZM348 349.8L349 352.8L346.3 351.4ZM381.8 279.6L383.9 280.4L381.7 280.9ZM381.6 282.6L382.9 283.4L381.5 284ZM381.2 286.2L382.9 287.1L381 287.6ZM381 287.7L382.2 288.6L380.8 289.1ZM380.8 288.9L381.6 289.8L380.6 290.3ZM379.7 294.8L381.1 295.8L379.4 296.2ZM378.9 298.3L379.6 299.2L378.6 299.6ZM377.7 302.9L378.4 303.9L377.3 304.3ZM377.3 304.1L378.1 305.1L376.9 305.4ZM375.7 308.9L376.7 310L375.2 310.2ZM374.7 311.5L375.6 312.7L374.1 312.8ZM373.4 314.5L373.9 315.4L372.9 315.7ZM372.7 316.1L373.8 317.4L372.1 317.3ZM371.6 318.4L372.4 319.6L371 319.7ZM370.6 320.5L371.5 321.8L369.9 321.8ZM370.3 321L371.6 322.4L369.7 322.2ZM369.5 322.5L370.2 323.6L368.9 323.7ZM368.8 323.9L370.4 325.6L368.1 325.1ZM368.4 324.5L369.4 325.9L367.7 325.7ZM367.3 326.4L368.4 327.9L366.6 327.6ZM366.9 327.1L368.1 328.7L366.1 328.3ZM364.4 330.9L365.4 332.4L363.6 332ZM362 334.3L362.4 335.4L361.2 335.4ZM361.2 335.4L361.5 336.5L360.4 336.5ZM359 338.2L359.9 339.8L358.1 339.3ZM358.7 338.5L359.3 339.9L357.9 339.6ZM357.5 340L357.6 341.1L356.6 341.1ZM354.9 342.9L356 344.9L354 344ZM348.6 349.3L348.7 350.4L347.6 350.2ZM342.1 354.8L343.6 358.7L340.2 356.2ZM337.3 358.3L337.8 361.1L335.4 359.6ZM332 361.7L335.9 370.7L330 362.8ZM311.3 371.1L310.8 373.3L309.1 371.8ZM295.3 375L294.5 377.1L293.1 375.4ZM276.2 376.3L273.9 403.9L273.9 376.2ZM273 376.2L271.5 380.5L270.7 376ZM270.9 376L268.9 385.2L268.6 375.8ZM266.7 375.6L264.9 380.9L264.4 375.3ZM263.3 375.1L260.2 386.5L261 374.8ZM261.2 374.8L259.1 379.9L258.9 374.4ZM342.1 354.7L342.3 356.1L341 355.6ZM339.9 356.4L340.3 358.3L338.7 357.3ZM336 359.1L336.7 361.4L334.8 359.9ZM335.2 359.7L335.5 361.5L334 360.4ZM325.5 365.2L325.4 366.6L324.3 365.8ZM322.5 366.7L322.7 369L321.2 367.3ZM317.2 369L317 370.4L315.9 369.5ZM309.6 371.7L309.5 373.7L308.3 372.1ZM306 372.7L305.6 374.1L304.7 373.1ZM303 373.5L302.8 375.4L301.7 373.8ZM300.6 374.1L300.3 376.4L299.2 374.3ZM296.1 374.9L295.7 377L294.7 375.1ZM291.7 375.6L291.2 377.4L290.3 375.7ZM289.5 375.8L288.9 377.4L288.1 375.9ZM285.3 376.2L284.7 377.9L283.9 376.2ZM283.3 376.3L282.7 377.5L281.9 376.3ZM280.2 376.3L279.5 378.1L278.8 376.3ZM275.4 376.3L274.7 377.6L274 376.2ZM269.3 375.9L268.5 376.7L267.9 375.8ZM266.9 375.6L266.1 376.9L265.6 375.5ZM265.7 375.5L264.9 376.4L264.3 375.3ZM262.7 375.1L261.7 376.8L261.3 374.8ZM261.8 374.9L261 375.7L260.5 374.7ZM260.1 374.6L259.1 375.9L258.7 374.3ZM255.3 373.6L252.7 379.5L253.1 373ZM253.3 373.1L250.7 378.3L251.1 372.5ZM252.3 372.8L250 376.7L250.1 372.2ZM250.3 372.3L247 379.2L248.1 371.6ZM239.7 368.6L237 372L237.6 367.7ZM236.2 367L233.7 369.6L234.1 366ZM223.6 360.2L221.6 361L221.6 358.9ZM210.2 350L205.7 353.1L208.5 348.4ZM203 342.9L198.3 345.5L201.5 341.1ZM200.4 340L195.8 342.3L199 338.2ZM192.7 329.6L182.8 334.5L191.5 327.6ZM191.4 327.5L187.1 328.8L190.2 325.5ZM248.7 371.8L247.7 372.7L247.4 371.4ZM245.6 370.8L244.7 371.3L244.3 370.3ZM244.9 370.5L243.9 371.3L243.6 370.1ZM241 369.1L239.9 370L239.8 368.6ZM236.4 367.1L235.2 368L235.1 366.5ZM234.1 366.1L233.1 366.6L232.9 365.5ZM232.3 365.2L231.2 365.8L231.1 364.5ZM230.3 364.1L229.2 364.8L229.1 363.5ZM228.9 363.3L227.4 364.6L227.7 362.7ZM224.3 360.6L222.9 361.6L223.2 359.9ZM219.1 357.2L217.6 358.2L218 356.4ZM218.9 357L217.1 358.4L217.8 356.2ZM215 354L213.7 354.6L213.9 353.2ZM208.3 348.3L206.9 348.7L207.3 347.3ZM207.5 347.5L206.5 347.6L206.5 346.5ZM204.6 344.6L202.7 345.5L203.7 343.6ZM203.1 343L201.4 343.6L202.2 341.9ZM202.4 342.2L200.7 342.8L201.5 341.2ZM198 337L196.3 337.4L197.1 335.9ZM197.4 336.2L195.3 337L196.6 335.1ZM196.7 335.3L194.5 336.1L195.9 334.2ZM191 326.9L189.1 327.3L190.3 325.7ZM190.8 326.5L188.6 327L190.1 325.3ZM187.4 320.4L185.4 320.6L186.7 319.1ZM185.3 316.1L182.8 315.9L184.4 314ZM179 297.9L177.2 297.2L178.5 295.7ZM176 273.6L174.5 272.5L176 271.3ZM180.2 244.3L178.3 242.5L180.9 242.1ZM183.4 235L180.6 232.6L184.3 232.9ZM184.3 232.8L182.1 230.5L185.3 230.7ZM182.1 308.1L180.4 308L181.6 306.8ZM181.5 306.7L180 306.4L181.1 305.3ZM181.5 306.5L179.7 306.3L181 305.2ZM179.9 301.5L178 301.3L179.6 300.2ZM178.3 295.2L176.2 294.9L178.1 293.8ZM177.1 288.7L175.2 288.2L176.9 287.3ZM176.5 283.7L174.8 283.2L176.4 282.3ZM176.2 280.3L174.1 279.8L176.2 278.9ZM176.1 278.1L175 277.5L176.1 276.8ZM176.1 277.7L174.3 277L176 276.3ZM176.4 263.8L175.4 263L176.6 262.4ZM177.1 258.7L176.2 257.8L177.3 257.3ZM178 253.3L176.1 252.3L178.2 252ZM179.1 248.2L177.1 247L179.5 246.9ZM182.7 236.8L182.1 235.9L183.2 235.6ZM183 236.1L181.1 234.6L183.5 234.8ZM184.6 232.2L184.1 231.2L185.2 230.9ZM187.6 225.8L186 223.6L188.7 223.8ZM192.6 217.3L191.4 215.2L193.8 215.4ZM204.5 202.2L204.5 200.7L206.1 200.6ZM220.2 188.8L220.3 187L222.1 187.5ZM238.2 178.8L235.4 169.2L240.3 177.9ZM240.4 177.8L238.9 170.8L242.6 177ZM242.4 177.1L237.9 161.6L244.6 176.3ZM243.4 176.7L240.7 166.5L245.1 176.1ZM244.4 176.3L238 154.3L246.5 175.6ZM244.1 176.4L240.7 163.8L245.8 175.8ZM245.4 176L242.4 163.4L247.5 175.3ZM245.8 175.8L244.1 167.6L247.6 175.3ZM247.7 175.2L245.4 163.9L249.9 174.5ZM250.4 174.4L248.5 163.5L252.6 173.8ZM253.1 173.7L252.1 165L255.3 173.1ZM192.5 217.4L191.1 215.7L193.3 216.3ZM195.6 212.9L194.3 211.1L196.4 211.8ZM196.4 211.8L195.7 210.4L197.2 210.7ZM197.3 210.7L196.7 209.4L198.1 209.6ZM198.1 209.6L197 207.8L199 208.5ZM199.9 207.4L199.3 206L200.8 206.4ZM208.3 198.4L207.6 196.6L209.3 197.5ZM210.5 196.4L209.7 194.5L211.5 195.5ZM210.7 196.2L210.1 194.4L211.8 195.3ZM212.9 194.3L212.8 193L214 193.5ZM215.2 192.5L214.8 190.8L216.3 191.6ZM218.7 189.9L218.5 188.4L219.8 189.1ZM220.4 188.6L220.6 187.6L221.6 187.8ZM225.7 185.2L225.5 183.6L226.9 184.5ZM226.9 184.5L226.9 183.2L228.1 183.8ZM228.6 183.5L228.5 182L229.8 182.9ZM233 181.2L233 179.7L234.2 180.6ZM235.5 180L235.6 178.4L236.8 179.4ZM243 176.9L243.2 175.5L244.3 176.4ZM256.8 172.8L257.2 168.9L259.1 172.3ZM258.5 172.4L259.1 169.3L260.8 172ZM286.4 170.6L287.6 169.6L288.7 170.8ZM312.7 176L315.3 172.4L314.9 176.8ZM317.7 177.9L320.1 174.9L319.8 178.8ZM321.2 179.4L324.5 174.9L323.3 180.4ZM324.7 181L327.7 177.6L326.7 182.1ZM326.9 182.1L330.6 177.7L328.9 183.2ZM330.2 184L335.7 176.9L332.2 185.2ZM333.3 185.8L337.7 180.9L335.2 187ZM336.5 187.9L341.5 182.7L338.4 189.2ZM338.8 189.5L342.4 186.4L340.6 190.8ZM263.5 171.5L264.1 170.5L264.9 171.3ZM269.6 170.8L270.1 168.9L270.9 170.7ZM277.2 170.4L277.9 169.2L278.6 170.4ZM285.9 170.6L286.7 169.6L287.3 170.7ZM292.9 171.3L293.8 170.1L294.3 171.5ZM303.9 173.4L304.9 172L305.2 173.7ZM311.3 175.5L312.6 173.8L312.6 176ZM320.6 179.1L321.9 177.7L321.8 179.7ZM332.3 185.2L333.5 184.6L333.5 185.9ZM333.9 186.2L335.1 185.6L335.1 186.9ZM344.1 193.5L347.8 190.8L345.9 195ZM346.5 195.5L352.1 191L348.2 197.1ZM348.8 197.6L354.3 193.5L350.5 199.2ZM350.9 199.6L358.4 193.6L352.5 201.2ZM351.6 200.3L361.9 191.8L353.2 202ZM352.3 201L356.5 198.2L353.6 202.3ZM370.1 225.3L371.9 225.7L371.1 227.3ZM380.9 258.1L384.7 258.7L381.2 260.3ZM381.6 264.7L385.3 265.5L381.8 267ZM344.4 193.8L345.9 193L345.5 194.7ZM351.8 200.5L353.3 199.9L352.7 201.4ZM353.9 202.6L355.2 202.3L354.8 203.6ZM356.2 205.2L358 204.5L357.1 206.2ZM358.7 208.1L360.3 207.7L359.6 209.2ZM360 209.8L361.2 209.7L360.9 210.9ZM361.1 211.1L362.5 210.9L361.9 212.2ZM363.3 214.2L365.6 213.5L364.1 215.4ZM364.5 216L366 215.8L365.3 217.1ZM368 221.6L369.8 221.3L368.7 222.8ZM370.3 225.6L371.4 225.8L370.9 226.9ZM372.1 229.3L373.5 229.4L372.7 230.6ZM373.2 231.8L374.4 232L373.8 233ZM375.2 236.7L377.2 236.7L375.7 237.9ZM377 241.5L378.9 241.6L377.4 242.9ZM379.4 250.2L381.5 250.4L379.7 251.5ZM379.8 252.1L380.7 252.6L380.1 253.4ZM381.4 261.9L382.7 262.4L381.5 263.3ZM382 270.7L382.8 271.4L382 272.1Z"/>
<path fill="#1f63a8" d="M343.2 273.5L361.8 274.9L343.2 275.5ZM343.2 274.2L354.1 275.5L343.1 276.2ZM343.2 275.1L353.6 276.5L343.1 277.1ZM341.9 286.3L343.1 287.6L341.4 288.3ZM320.9 322L328.4 332.6L319.4 323.3ZM321 321.9L325.2 328.2L319.7 323ZM343.2 275.8L344.8 276.5L343.1 277ZM342.7 281.3L344.9 282.2L342.6 282.5ZM342.6 281.8L343.8 282.5L342.5 283ZM342.2 284.6L344.2 285.6L342 285.8ZM342.2 284.8L343.7 285.7L341.9 286ZM339.1 295.8L340.3 296.9L338.7 297ZM333.7 306.9L334.1 307.8L333.1 307.9ZM332.8 308.3L333.6 309.5L332.2 309.3ZM330.5 311.6L331.9 313.4L329.8 312.6ZM318.9 323.7L324 332L317.3 324.9ZM313.7 327.3L317 334.5L312 328.4ZM312.1 328.4L313.8 333.4L310.3 329.4ZM309.2 330L309.3 332.4L307.4 330.9ZM295.9 335.3L295.3 337L293.9 335.8ZM277.1 337.5L275.5 349.4L275.1 337.4ZM276 337.5L274.5 345L274 337.4ZM275.1 337.4L273.4 347.2L273.1 337.3ZM274 337.4L271.6 352.7L272 337.2ZM273.4 337.3L271.2 348.1L271.4 337.1ZM272.7 337.2L271.5 341.1L271.1 337.1ZM272.5 337.2L269.3 356.1L270.5 337ZM272.1 337.2L267.9 362.8L270.1 336.9ZM271.6 337.1L269 351L270 336.9ZM270.8 337L268.3 347.3L268.8 336.7ZM269.5 336.8L266.4 349.4L267.5 336.5ZM268.9 336.7L267 342.8L267.3 336.5ZM318.5 323.9L318.5 324.9L317.6 324.7ZM316.2 325.7L316.3 327L315.2 326.4ZM314.4 326.9L314.9 328.9L313.4 327.6ZM313.7 327.3L314.4 329.5L312.7 328ZM312.5 328.1L312.6 329.6L311.5 328.7ZM309.7 329.7L309.9 331.3L308.6 330.3ZM308.9 330.2L309 331.6L307.9 330.7ZM307.7 330.8L308.2 333.1L306.7 331.3ZM306.7 331.3L306.8 332.9L305.6 331.8ZM305.8 331.7L306.2 333.8L304.7 332.2ZM298.6 334.5L298.3 335.7L297.4 334.8ZM297.7 334.8L297.5 336.2L296.6 335.1ZM296.1 335.2L295.8 336.3L295 335.5ZM294.5 335.7L294.2 337.1L293.3 335.9ZM294.1 335.7L294 337.7L293 336ZM280 337.5L279.5 339.4L278.8 337.5ZM277.5 337.5L276.9 339.6L276.3 337.5ZM273.1 337.3L272.3 339.2L271.9 337.2ZM272.5 337.2L271.6 339.2L271.3 337.1ZM271.5 337.1L270.8 338.4L270.3 337ZM268.6 336.7L267.6 338.7L267.4 336.5ZM263.7 335.7L261.8 339.1L261.7 335.2ZM256.6 333.5L252.9 340.3L254.7 332.8ZM255.4 333L251.6 339.6L253.5 332.3ZM254.2 332.5L250 339.6L252.3 331.7ZM237.8 322.6L235.3 324L236.3 321.3ZM224.2 306.8L218.3 309.1L223.2 305.1ZM261.8 335.2L260.8 336.5L260.6 334.9ZM259.1 334.4L257.9 336.2L257.9 334ZM258 334L256.6 335.9L256.8 333.6ZM251.4 331.3L250.4 332L250.4 330.8ZM249.8 330.5L248.8 331.3L248.8 330ZM248.7 329.9L247.5 330.9L247.6 329.4ZM248.3 329.7L247.2 330.6L247.3 329.2ZM246.1 328.5L244.9 329.3L245.1 327.8ZM244.7 327.6L243.7 327.9L243.7 326.9ZM243.8 327L242.6 327.7L242.8 326.4ZM239.9 324.3L238.2 325.5L239 323.5ZM230.4 315.3L228.8 315.8L229.6 314.3ZM229.4 314.2L227.3 315.1L228.7 313.2ZM228.4 312.9L227.1 313.2L227.7 312ZM228 312.4L226.6 312.7L227.3 311.4ZM227.3 311.5L225.2 312.3L226.6 310.5ZM226.4 310.2L225 310.5L225.8 309.2ZM225.6 309L223.4 309.7L224.9 308ZM223 304.7L220.9 305.1L222.4 303.6ZM222.2 303.3L221.2 303.2L221.7 302.3ZM215.2 280.4L214 279.5L215 278.4ZM216.2 260.2L214.6 258.8L216.6 258.2ZM216.8 257.6L209.7 254.7L217.3 255.7ZM217 256.6L206.2 252.4L217.6 254.6ZM217.6 254.5L212.5 251.7L218.3 252.6ZM219.1 250.3L212.6 246.7L219.8 248.5ZM219.5 249.1L209.9 243.9L220.3 247.3ZM219.5 249.3L216 247L220.1 247.9ZM220.9 300.7L219.7 300.6L220.4 299.6ZM219.5 297.6L218.5 297.3L219.1 296.5ZM216.4 287.8L214.3 287.7L216.2 286.6ZM216.1 286.2L215 285.8L215.9 285ZM215.7 284.2L214.4 283.8L215.5 283ZM215.2 280.4L214.1 279.9L215.1 279.2ZM215.1 279.7L214 279.2L215 278.5ZM215 278.5L213.9 278L214.9 277.3ZM214.8 275.4L213.9 274.9L214.8 274.2ZM214.8 274.2L213.8 273.6L214.8 273ZM215 269L213.3 268.2L215 267.8ZM215.1 267L214.3 266.3L215.2 265.8ZM215.4 264.9L213.7 264.1L215.5 263.7ZM215.5 264L214.8 263.2L215.7 262.8ZM215.8 261.9L214.3 261L216.1 260.7ZM215.9 261.4L215.2 260.7L216.2 260.2ZM216.4 259.3L214.5 258.2L216.6 258.1ZM217.3 255.6L216.7 254.8L217.6 254.5ZM217.5 254.8L216.2 253.7L217.9 253.6ZM217.9 253.7L217 252.8L218.3 252.5ZM219.9 248.3L218.5 247L220.4 247.2ZM221.6 244.5L217.2 241.1L222.6 242.8ZM223.6 240.9L215.7 234.9L224.6 239.2ZM224.3 239.8L221.2 236.6L225.4 238.1ZM226.4 236.5L224.4 233.8L227.6 234.9ZM232.7 228.9L231 225.8L234.1 227.5ZM240.2 222.2L237.8 217.3L241.8 221.1ZM244.8 219L240.8 210.5L246.5 218ZM252.3 215L249.5 206L254.1 214.2ZM254.5 214L252.7 206.7L256.4 213.3ZM256.3 213.3L252.8 200.5L258.2 212.6ZM256.8 213.1L255 205.7L258.3 212.6ZM257.1 213L252.1 195.3L259 212.3ZM257.8 212.8L253.1 195.7L259.7 212.1ZM257.5 212.9L256.2 206.5L259 212.3ZM258.6 212.5L255.4 199.1L260.5 211.9ZM259.4 212.2L257.4 202L261.3 211.6ZM260.5 211.9L258.5 201.2L262.4 211.3ZM221.4 244.9L220.8 243.9L222 243.8ZM222.6 242.7L221.5 241.5L223.2 241.7ZM223.4 241.3L222.2 240L224 240.3ZM224.7 239.1L224 238L225.3 238.1ZM225.4 238L224.3 236.4L226.1 237ZM226.3 236.7L225.3 235.3L227 235.7ZM227 235.7L225.9 234.1L227.7 234.7ZM227.6 234.9L227.3 233.9L228.3 233.9ZM228.1 234.2L227.8 233.1L228.9 233.2ZM228.4 233.9L227 232L229.1 232.9ZM228.8 233.3L227.9 231.9L229.6 232.4ZM229.3 232.7L229 231.7L230 231.8ZM232.6 228.9L231.7 227.2L233.5 228.1ZM233.4 228.1L232.4 226.3L234.3 227.3ZM236.7 225.1L235.8 223.2L237.6 224.3ZM236.9 224.9L236 222.9L237.8 224.1ZM238.2 223.8L238 222.5L239.2 223ZM238.6 223.5L237.6 221.3L239.5 222.7ZM239.3 222.9L239.1 221.7L240.2 222.2ZM241.2 221.5L240.6 219.6L242.2 220.8ZM241.8 221L241.6 219.6L242.8 220.3ZM244.4 219.3L244.4 218.1L245.4 218.6ZM249.7 216.2L249.9 215.2L250.8 215.7ZM250.1 216L249.6 213.7L251.1 215.5ZM250.9 215.6L251 214.4L252 215.1ZM255.5 213.6L255.7 212.4L256.6 213.2ZM258.6 212.5L258.6 210.4L259.8 212.1ZM259.5 212.2L259.4 210.1L260.6 211.8ZM261.1 211.7L261.1 209.7L262.2 211.4ZM262 211.4L262.4 210.4L263.2 211.1ZM265.3 210.6L265.6 206.9L267.3 210.2ZM266.4 210.4L267 208L268.4 210ZM290.7 210.2L291.9 209.4L292.7 210.6ZM268.8 210L269.3 209L270 209.8ZM269.4 209.9L269.9 208.9L270.6 209.7ZM271.3 209.6L271.7 207.8L272.5 209.5ZM278.5 209.2L279.1 206.8L279.7 209.2ZM283.1 209.3L283.7 208L284.2 209.4ZM284.4 209.4L285.1 208.4L285.6 209.5ZM286.7 209.6L287.4 208.6L287.9 209.8ZM288.5 209.9L289.4 208.3L289.7 210ZM292.3 210.6L293.3 209.2L293.5 210.8ZM293.2 210.7L294 209.8L294.3 211ZM296.2 211.5L297.4 209.6L297.4 211.8ZM298.7 212.2L299.5 211.7L299.8 212.6ZM299.5 212.5L300.6 211.3L300.6 212.9ZM302.6 213.6L303.6 212.7L303.7 214.1ZM304.3 214.3L305.2 213.8L305.4 214.8ZM305.2 214.7L306.7 212.9L306.3 215.2ZM306.4 215.3L307.6 214.1L307.4 215.8ZM309.1 216.6L310.7 215L310.1 217.2ZM314.2 219.7L315.3 219.2L315.2 220.3ZM320.7 224.5L322.6 223.8L322.2 225.9ZM322 225.7L325.3 223.6L323.5 227ZM323 226.6L326.9 224L324.4 228ZM342.9 267.4L352.8 267.7L343.1 269.4ZM343 268.7L360.7 268.8L343.1 270.7ZM343.1 269.8L372.2 269.7L343.2 271.8ZM343.1 270.7L364.6 271.2L343.2 272.7ZM328.8 232.8L330.6 232.1L329.6 233.8ZM330.2 234.6L332.4 233.7L330.9 235.6ZM331.1 235.8L332.3 235.6L331.8 236.8ZM333.2 239L335.5 238.3L333.9 240ZM335.2 242.3L337.4 241.7L335.7 243.3ZM336.1 244L337.9 243.8L336.7 245.1ZM337.1 246.1L339.3 245.8L337.6 247.2ZM337.9 247.7L339.1 247.8L338.3 248.8ZM339.2 251.1L341.5 250.9L339.6 252.2ZM339.3 251.4L340.9 251.5L339.7 252.6ZM339.5 251.9L341.3 252L339.9 253.1ZM339.8 252.6L341.9 252.6L340.1 253.8ZM341.2 257.4L342.1 257.7L341.5 258.5ZM341.3 257.7L342.4 258L341.5 258.8ZM341.4 258.3L343.5 258.4L341.7 259.5ZM342.2 262.3L343.4 262.7L342.4 263.5ZM342.5 264.1L344.3 264.5L342.7 265.3ZM343 268.4L344.7 268.9L343.1 269.6ZM343.1 270.6L344.9 271.1L343.2 271.8Z"/>
<path fill="none" stroke="#333333" stroke-width="1.05" d="M537.5 273.4A258.5 258.5 0 0 1 443.7 472.6M498.3 273.4A219.3 219.3 0 0 1 418.7 442.4M459.6 273.4A180.6 180.6 0 0 1 394 412.6M420.5 273.4A141.5 141.5 0 0 1 369.1 382.4M382 273.4A103 103 0 0 1 344.6 352.7M343.2 273.4A64.2 64.2 0 0 1 319.9 322.8M497.8 273.4L537.5 273.4M418.4 442L443.7 472.6M440.2 475.5A258.5 258.5 0 0 1 225.9 526.3M415.7 444.8A219.3 219.3 0 0 1 233.9 488M391.6 414.6A180.6 180.6 0 0 1 241.9 450.1M367.2 384A141.5 141.5 0 0 1 249.9 411.8M343.2 353.9A103 103 0 0 1 257.8 374.2M319 323.5A64.2 64.2 0 0 1 265.8 336.2M415.4 444.4L440.2 475.5M234 487.5L225.9 526.3M221.5 525.4A258.5 258.5 0 0 1 48.1 389.5M230.2 487.1A219.3 219.3 0 0 1 83.1 371.9M238.8 449.4A180.6 180.6 0 0 1 117.7 354.5M247.5 411.3A141.5 141.5 0 0 1 152.6 337M256.1 373.8A103 103 0 0 1 187 319.6M264.7 335.9A64.2 64.2 0 0 1 221.7 302.2M230.3 486.7L221.5 525.4M83.5 371.7L48.1 389.5M46.1 385.5A258.5 258.5 0 0 1 44.2 165.2M81.4 368.5A219.3 219.3 0 0 1 79.8 181.6M116.3 351.7A180.6 180.6 0 0 1 114.9 197.8M151.5 334.7A141.5 141.5 0 0 1 150.5 214.2M186.2 318A103 103 0 0 1 185.4 230.3M221.2 301.2A64.2 64.2 0 0 1 220.7 246.5M81.9 368.3L46.1 385.5M80.3 181.9L44.2 165.2M46.1 161.2A258.5 258.5 0 0 1 217.1 22.4M81.4 178.2A219.3 219.3 0 0 1 226.5 60.4M116.3 195A180.6 180.6 0 0 1 235.8 98M151.5 211.9A141.5 141.5 0 0 1 245.1 136M186.2 228.7A103 103 0 0 1 254.3 173.3M221.2 245.5A64.2 64.2 0 0 1 263.6 211M81.9 178.4L46.1 161.2M226.6 60.9L217.1 22.4M221.5 21.3A258.5 258.5 0 0 1 436.7 68.5M230.2 59.5A219.3 219.3 0 0 1 412.7 99.6M238.8 97.3A180.6 180.6 0 0 1 389.1 130.2M247.5 135.4A141.5 141.5 0 0 1 365.3 161.2M256.1 172.9A103 103 0 0 1 341.8 191.7M264.7 210.8A64.2 64.2 0 0 1 318.2 222.5M230.3 60L221.5 21.3M412.4 100L436.7 68.5M440.2 71.3A258.5 258.5 0 0 1 537.5 268.9M415.8 101.9A219.3 219.3 0 0 1 498.3 269.6M391.6 132.2A180.6 180.6 0 0 1 459.6 270.2M367.2 162.7A141.5 141.5 0 0 1 420.5 270.9M343.2 192.8A103 103 0 0 1 382 271.6M319 223.2A64.2 64.2 0 0 1 343.2 272.2M415.4 102.3L440.2 71.3M497.8 269.6L537.5 268.9"/>
<path fill="#fff" d="M420.5 270.5L498.3 269.8L498.3 273L420.5 273.7ZM369.4 382.2L418.5 442.6L416 444.6L366.9 384.2ZM250.3 411.9L233.6 487.9L230.5 487.2L247.1 411.2ZM152.8 337.3L83 371.6L81.5 368.8L151.3 334.4ZM150.3 214.5L79.9 181.4L81.3 178.5L151.7 211.6ZM244.8 136L226.8 60.3L229.9 59.6L247.9 135.3ZM365 161L413 99.7L415.5 101.7L367.5 163Z"/>
<path fill="#b8b8b8" d="M343.2 271.2L382 270.9L382 274.1L343.2 274.4ZM320.7 322.2L345.2 352.3L342.7 354.3L318.2 324.2ZM266.8 336.4L258.5 374.3L255.4 373.6L263.7 335.7ZM222.1 303.1L187.3 320.3L185.9 317.4L220.7 300.3ZM220.2 247.4L185.1 230.9L186.5 228L221.6 244.5ZM262.6 211.3L253.7 173.5L256.8 172.8L265.7 210.5ZM317.3 221.8L341.3 191.3L343.8 193.3L319.9 223.8Z"/>
<path fill="none" stroke="#333" stroke-width="0.85" d="M343.2 271.2L498.3 269.8M343.2 274.4L498.3 273M320.7 322.2L418.5 442.6M318.2 324.2L416 444.6M266.8 336.4L233.6 487.9M263.7 335.7L230.5 487.2M222.1 303.1L83 371.6M220.7 300.3L81.5 368.8M220.2 247.4L79.9 181.4M221.6 244.5L81.3 178.5M262.6 211.3L226.8 60.3M265.7 210.5L229.9 59.6M317.3 221.8L413 99.7M319.9 223.8L415.5 101.7"/>
<path fill="none" stroke="#555" stroke-width="0.65" d="M344.8 271.2L344.8 274.4M350.3 271.1L350.3 274.3M355.8 271.1L355.8 274.3M361.3 271L361.3 274.2M366.8 271L366.8 274.2M372.3 270.9L372.3 274.1M377.8 270.9L377.8 274.1M383.3 270.8L383.3 274M388.8 270.8L388.8 274M394.3 270.7L394.3 273.9M399.8 270.7L399.8 273.9M405.3 270.6L405.3 273.8M410.8 270.6L410.8 273.8M416.3 270.6L416.3 273.8M421.8 270.5L421.8 273.7M427.3 270.5L427.3 273.7M432.8 270.4L432.8 273.6M438.3 270.4L438.3 273.6M443.8 270.3L443.8 273.5M449.3 270.3L449.3 273.5M454.8 270.2L454.8 273.4M460.3 270.2L460.3 273.4M465.8 270.1L465.8 273.3M471.3 270.1L471.3 273.3M476.8 270L476.8 273.2M482.3 270L482.3 273.2M487.8 269.9L487.8 273.1M493.3 269.9L493.3 273.1M502.7 273.4L502.6 269.4M507 273.4L507 269.4M511.4 273.4L511.3 269.3M515.7 273.4L515.7 269.2M520.1 273.4L520 269.1M524.4 273.4L524.4 269.1M528.8 273.4L528.8 269M533.1 273.4L533.1 268.9M321.7 323.4L319.2 325.4M325.2 327.7L322.7 329.7M328.6 332L326.2 334M332.1 336.2L329.6 338.3M335.6 340.5L333.1 342.5M339 344.8L336.6 346.8M342.5 349L340 351.1M346 353.3L343.5 355.3M349.4 357.6L347 359.6M352.9 361.9L350.4 363.9M356.4 366.1L353.9 368.1M359.8 370.4L357.4 372.4M363.3 374.7L360.8 376.7M366.8 378.9L364.3 381M370.2 383.2L367.8 385.2M373.7 387.5L371.2 389.5M377.2 391.7L374.7 393.8M380.6 396L378.2 398M384.1 400.3L381.6 402.3M387.6 404.6L385.1 406.6M391 408.8L388.6 410.8M394.5 413.1L392 415.1M398 417.4L395.5 419.4M401.4 421.6L399 423.7M404.9 425.9L402.4 427.9M408.4 430.2L405.9 432.2M411.8 434.4L409.4 436.5M415.3 438.7L412.8 440.7M418.4 448.2L421.5 445.8M421.2 451.6L424.2 449.1M423.9 455L427 452.5M426.6 458.4L429.8 455.8M429.3 461.8L432.6 459.2M432 465.2L435.3 462.5M434.7 468.6L438.1 465.9M437.5 472.1L440.9 469.3M266.5 338L263.4 337.3M265.3 343.3L262.2 342.7M264.1 348.7L261 348M262.9 354.1L259.8 353.4M261.8 359.5L258.6 358.8M260.6 364.8L257.5 364.1M259.4 370.2L256.3 369.5M258.2 375.6L255.1 374.9M257.1 380.9L253.9 380.3M255.9 386.3L252.8 385.6M254.7 391.7L251.6 391M253.5 397.1L250.4 396.4M252.4 402.4L249.2 401.8M251.2 407.8L248 407.1M250 413.2L246.9 412.5M248.8 418.6L245.7 417.9M247.6 423.9L244.5 423.2M246.5 429.3L243.3 428.6M245.3 434.7L242.2 434M244.1 440L241 439.4M242.9 445.4L239.8 444.7M241.8 450.8L238.6 450.1M240.6 456.2L237.5 455.5M239.4 461.5L236.3 460.9M238.2 466.9L235.1 466.2M237 472.3L233.9 471.6M235.9 477.7L232.7 477M234.7 483L231.6 482.3M229.2 491.4L233 492.2M228.3 495.6L232.1 496.5M227.3 499.9L231.2 500.8M226.3 504.1L230.3 505M225.3 508.4L229.5 509.3M224.4 512.6L228.6 513.5M223.4 516.9L227.7 517.8M222.4 521.1L226.8 522.1M220.7 303.8L219.3 301M215.7 306.3L214.3 303.4M210.8 308.7L209.4 305.8M205.9 311.1L204.5 308.3M200.9 313.6L199.5 310.7M196 316L194.6 313.1M191.1 318.4L189.7 315.6M186.1 320.9L184.7 318M181.2 323.3L179.8 320.4M176.3 325.7L174.8 322.8M171.3 328.1L169.9 325.3M166.4 330.6L165 327.7M161.5 333L160 330.1M156.5 335.4L155.1 332.6M151.6 337.9L150.2 335M146.7 340.3L145.2 337.4M141.7 342.7L140.3 339.8M136.8 345.1L135.4 342.3M131.9 347.6L130.4 344.7M126.9 350L125.5 347.1M122 352.4L120.6 349.6M117 354.9L115.6 352M112.1 357.3L110.7 354.4M107.2 359.7L105.8 356.8M102.2 362.1L100.8 359.3M97.3 364.6L95.9 361.7M92.4 367L91 364.1M87.4 369.4L86 366.6M77.5 370.4L79.2 373.9M73.6 372.3L75.3 375.8M69.6 374.2L71.4 377.8M65.7 376L67.5 379.8M61.8 377.9L63.6 381.7M57.9 379.8L59.8 383.7M53.9 381.7L55.9 385.6M50 383.6L52 387.6M218.8 246.8L220.2 243.9M213.8 244.4L215.2 241.5M208.8 242.1L210.2 239.2M203.9 239.7L205.2 236.8M198.9 237.4L200.3 234.5M193.9 235L195.3 232.1M188.9 232.7L190.3 229.8M184 230.4L185.3 227.5M179 228L180.3 225.1M174 225.7L175.4 222.8M169 223.3L170.4 220.4M164.1 221L165.4 218.1M159.1 218.6L160.4 215.7M154.1 216.3L155.5 213.4M149.1 214L150.5 211.1M144.2 211.6L145.5 208.7M139.2 209.3L140.5 206.4M134.2 206.9L135.6 204M129.2 204.6L130.6 201.7M124.3 202.2L125.6 199.3M119.3 199.9L120.6 197M114.3 197.5L115.7 194.7M109.3 195.2L110.7 192.3M104.3 192.9L105.7 190M99.4 190.5L100.7 187.6M94.4 188.2L95.8 185.3M89.4 185.8L90.8 182.9M84.4 183.5L85.8 180.6M77.5 176.3L75.8 179.8M73.6 174.4L71.9 178M69.7 172.5L67.9 176.2M65.7 170.6L64 174.4M61.8 168.7L60 172.5M57.9 166.8L56.1 170.7M54 164.9L52.1 168.9M50 163.1L48.1 167.1M262.3 209.7L265.4 209M261 204.3L264.1 203.6M259.7 199L262.8 198.3M258.4 193.6L261.6 192.9M257.2 188.3L260.3 187.6M255.9 182.9L259 182.2M254.6 177.6L257.7 176.9M253.4 172.2L256.5 171.5M252.1 166.9L255.2 166.1M250.8 161.5L253.9 160.8M249.6 156.2L252.7 155.4M248.3 150.8L251.4 150.1M247 145.5L250.1 144.7M245.7 140.1L248.9 139.4M244.5 134.8L247.6 134M243.2 129.4L246.3 128.7M241.9 124.1L245 123.3M240.7 118.7L243.8 118M239.4 113.4L242.5 112.6M238.1 108L241.2 107.3M236.9 102.7L240 101.9M235.6 97.3L238.7 96.6M234.3 92L237.4 91.2M233 86.6L236.2 85.9M231.8 81.3L234.9 80.5M230.5 75.9L233.6 75.2M229.2 70.6L232.3 69.8M228 65.2L231.1 64.5M229.3 55.3L225.5 56.2M228.3 51L224.4 52M227.3 46.8L223.4 47.7M226.4 42.6L222.3 43.5M225.4 38.3L221.3 39.3M224.4 34.1L220.2 35.1M223.4 29.8L219.2 30.8M222.5 25.6L218.2 26.6M318.3 220.6L320.8 222.5M321.7 216.2L324.2 218.2M325.1 211.9L327.6 213.9M328.5 207.6L331 209.6M331.9 203.3L334.4 205.2M335.3 198.9L337.8 200.9M338.7 194.6L341.2 196.6M342.1 190.3L344.6 192.2M345.5 185.9L348 187.9M348.9 181.6L351.4 183.6M352.2 177.3L354.8 179.2M355.6 172.9L358.2 174.9M359 168.6L361.5 170.6M362.4 164.3L364.9 166.3M365.8 160L368.3 161.9M369.2 155.6L371.7 157.6M372.6 151.3L375.1 153.3M376 147L378.5 148.9M379.4 142.6L381.9 144.6M382.8 138.3L385.3 140.3M386.2 134L388.7 136M389.6 129.7L392.1 131.6M393 125.3L395.5 127.3M396.3 121L398.9 123M399.7 116.7L402.3 118.6M403.1 112.3L405.6 114.3M406.5 108L409 110M409.9 103.7L412.4 105.7M418.5 98.5L415.4 96.1M421.2 95.1L418.1 92.7M423.9 91.7L420.7 89.2M426.6 88.3L423.4 85.7M429.3 84.9L426 82.3M432.1 81.5L428.7 78.8M434.8 78.1L431.3 75.4M437.5 74.7L434 71.9"/>
<text x="466.1" y="275.7" transform="rotate(89.5 466.1 275.7)" class="ll">0.2</text>
<text x="479" y="275.6" transform="rotate(89.5 479 275.6)" class="ll">0.4</text>
<text x="491.9" y="275.5" transform="rotate(89.5 491.9 275.5)" class="ll">0.6</text>
<text x="427" y="276.1" transform="rotate(89.5 427 276.1)" class="ll">0.2</text>
<text x="440.1" y="275.9" transform="rotate(89.5 440.1 275.9)" class="ll">0.4</text>
<text x="453.1" y="275.8" transform="rotate(89.5 453.1 275.8)" class="ll">0.6</text>
<text x="388.4" y="276.4" transform="rotate(89.5 388.4 276.4)" class="ll">0.2</text>
<text x="401.3" y="276.3" transform="rotate(89.5 401.3 276.3)" class="ll">0.4</text>
<text x="414.1" y="276.2" transform="rotate(89.5 414.1 276.2)" class="ll">0.6</text>
<text x="349.7" y="276.7" transform="rotate(89.5 349.7 276.7)" class="ll">0.2</text>
<text x="362.6" y="276.6" transform="rotate(89.5 362.6 276.6)" class="ll">0.4</text>
<text x="375.6" y="276.5" transform="rotate(89.5 375.6 276.5)" class="ll">0.6</text>
<text x="502.6" y="276.9" transform="rotate(90 502.6 276.9)" class="ll">0.1</text>
<text x="515.7" y="277.1" transform="rotate(90 515.7 277.1)" class="ll">0.3</text>
<text x="528.8" y="277.3" transform="rotate(90 528.8 277.3)" class="ll">0.5</text>
<text x="393.8" y="421.1" transform="rotate(140.9 393.8 421.1)" class="ll">0.2</text>
<text x="401.9" y="431.1" transform="rotate(140.9 401.9 431.1)" class="ll">0.4</text>
<text x="410" y="441.1" transform="rotate(140.9 410 441.1)" class="ll">0.6</text>
<text x="369.2" y="390.8" transform="rotate(140.9 369.2 390.8)" class="ll">0.2</text>
<text x="377.4" y="400.9" transform="rotate(140.9 377.4 400.9)" class="ll">0.4</text>
<text x="385.6" y="411" transform="rotate(140.9 385.6 411)" class="ll">0.6</text>
<text x="344.9" y="360.8" transform="rotate(140.9 344.9 360.8)" class="ll">0.2</text>
<text x="352.9" y="370.8" transform="rotate(140.9 352.9 370.8)" class="ll">0.4</text>
<text x="361" y="380.7" transform="rotate(140.9 361 380.7)" class="ll">0.6</text>
<text x="320.4" y="330.7" transform="rotate(140.9 320.4 330.7)" class="ll">0.2</text>
<text x="328.6" y="340.8" transform="rotate(140.9 328.6 340.8)" class="ll">0.4</text>
<text x="336.7" y="350.8" transform="rotate(140.9 336.7 350.8)" class="ll">0.6</text>
<text x="415.7" y="450.4" transform="rotate(141.4 415.7 450.4)" class="ll">0.1</text>
<text x="423.7" y="460.7" transform="rotate(141.4 423.7 460.7)" class="ll">0.3</text>
<text x="431.6" y="471.1" transform="rotate(141.4 431.6 471.1)" class="ll">0.5</text>
<text x="235.1" y="455.2" transform="rotate(192.4 235.1 455.2)" class="ll">0.2</text>
<text x="232.3" y="467.8" transform="rotate(192.4 232.3 467.8)" class="ll">0.4</text>
<text x="229.5" y="480.4" transform="rotate(192.4 229.5 480.4)" class="ll">0.6</text>
<text x="243.4" y="417.1" transform="rotate(192.4 243.4 417.1)" class="ll">0.2</text>
<text x="240.6" y="429.8" transform="rotate(192.4 240.6 429.8)" class="ll">0.4</text>
<text x="237.8" y="442.5" transform="rotate(192.4 237.8 442.5)" class="ll">0.6</text>
<text x="251.7" y="379.4" transform="rotate(192.4 251.7 379.4)" class="ll">0.2</text>
<text x="248.9" y="391.9" transform="rotate(192.4 248.9 391.9)" class="ll">0.4</text>
<text x="246.2" y="404.4" transform="rotate(192.4 246.2 404.4)" class="ll">0.6</text>
<text x="260" y="341.5" transform="rotate(192.4 260 341.5)" class="ll">0.2</text>
<text x="257.2" y="354.2" transform="rotate(192.4 257.2 354.2)" class="ll">0.4</text>
<text x="254.4" y="366.8" transform="rotate(192.4 254.4 366.8)" class="ll">0.6</text>
<text x="225.8" y="490.6" transform="rotate(192.9 225.8 490.6)" class="ll">0.1</text>
<text x="222.7" y="503.3" transform="rotate(192.9 222.7 503.3)" class="ll">0.3</text>
<text x="219.6" y="516" transform="rotate(192.9 219.6 516)" class="ll">0.5</text>
<text x="109.4" y="352.4" transform="rotate(243.8 109.4 352.4)" class="ll">0.2</text>
<text x="97.8" y="358.1" transform="rotate(243.8 97.8 358.1)" class="ll">0.4</text>
<text x="86.3" y="363.8" transform="rotate(243.8 86.3 363.8)" class="ll">0.6</text>
<text x="144.4" y="335.1" transform="rotate(243.8 144.4 335.1)" class="ll">0.2</text>
<text x="132.7" y="340.9" transform="rotate(243.8 132.7 340.9)" class="ll">0.4</text>
<text x="121" y="346.6" transform="rotate(243.8 121 346.6)" class="ll">0.6</text>
<text x="179.1" y="318.1" transform="rotate(243.8 179.1 318.1)" class="ll">0.2</text>
<text x="167.6" y="323.8" transform="rotate(243.8 167.6 323.8)" class="ll">0.4</text>
<text x="156" y="329.4" transform="rotate(243.8 156 329.4)" class="ll">0.6</text>
<text x="213.8" y="301" transform="rotate(243.8 213.8 301)" class="ll">0.2</text>
<text x="202.2" y="306.7" transform="rotate(243.8 202.2 306.7)" class="ll">0.4</text>
<text x="190.6" y="312.4" transform="rotate(243.8 190.6 312.4)" class="ll">0.6</text>
<text x="76" y="367.2" transform="rotate(244.3 76 367.2)" class="ll">0.1</text>
<text x="64.1" y="372.7" transform="rotate(244.3 64.1 372.7)" class="ll">0.3</text>
<text x="52.3" y="378.2" transform="rotate(244.3 52.3 378.2)" class="ll">0.5</text>
<text x="111.5" y="190" transform="rotate(295.2 111.5 190)" class="ll">0.2</text>
<text x="99.8" y="184.5" transform="rotate(295.2 99.8 184.5)" class="ll">0.4</text>
<text x="88.1" y="179" transform="rotate(295.2 88.1 179)" class="ll">0.6</text>
<text x="146.8" y="206.7" transform="rotate(295.2 146.8 206.7)" class="ll">0.2</text>
<text x="135" y="201.1" transform="rotate(295.2 135 201.1)" class="ll">0.4</text>
<text x="123.2" y="195.6" transform="rotate(295.2 123.2 195.6)" class="ll">0.6</text>
<text x="181.7" y="223.1" transform="rotate(295.2 181.7 223.1)" class="ll">0.2</text>
<text x="170.1" y="217.6" transform="rotate(295.2 170.1 217.6)" class="ll">0.4</text>
<text x="158.5" y="212.2" transform="rotate(295.2 158.5 212.2)" class="ll">0.6</text>
<text x="216.8" y="239.6" transform="rotate(295.2 216.8 239.6)" class="ll">0.2</text>
<text x="205.1" y="234.1" transform="rotate(295.2 205.1 234.1)" class="ll">0.4</text>
<text x="193.4" y="228.6" transform="rotate(295.2 193.4 228.6)" class="ll">0.6</text>
<text x="79.1" y="173.1" transform="rotate(295.7 79.1 173.1)" class="ll">0.1</text>
<text x="67.4" y="167.3" transform="rotate(295.7 67.4 167.3)" class="ll">0.3</text>
<text x="55.7" y="161.4" transform="rotate(295.7 55.7 161.4)" class="ll">0.5</text>
<text x="239.7" y="90.4" transform="rotate(346.6 239.7 90.4)" class="ll">0.2</text>
<text x="236.7" y="77.9" transform="rotate(346.6 236.7 77.9)" class="ll">0.4</text>
<text x="233.7" y="65.3" transform="rotate(346.6 233.7 65.3)" class="ll">0.6</text>
<text x="248.7" y="128.4" transform="rotate(346.6 248.7 128.4)" class="ll">0.2</text>
<text x="245.7" y="115.7" transform="rotate(346.6 245.7 115.7)" class="ll">0.4</text>
<text x="242.7" y="103" transform="rotate(346.6 242.7 103)" class="ll">0.6</text>
<text x="257.6" y="166" transform="rotate(346.6 257.6 166)" class="ll">0.2</text>
<text x="254.7" y="153.5" transform="rotate(346.6 254.7 153.5)" class="ll">0.4</text>
<text x="251.7" y="141" transform="rotate(346.6 251.7 141)" class="ll">0.6</text>
<text x="266.6" y="203.7" transform="rotate(346.6 266.6 203.7)" class="ll">0.2</text>
<text x="263.6" y="191.1" transform="rotate(346.6 263.6 191.1)" class="ll">0.4</text>
<text x="260.6" y="178.5" transform="rotate(346.6 260.6 178.5)" class="ll">0.6</text>
<text x="232.7" y="54.5" transform="rotate(347.1 232.7 54.5)" class="ll">0.1</text>
<text x="230" y="41.8" transform="rotate(347.1 230 41.8)" class="ll">0.3</text>
<text x="227.3" y="29" transform="rotate(347.1 227.3 29)" class="ll">0.5</text>
<text x="397.5" y="128.6" transform="rotate(398.1 397.5 128.6)" class="ll">0.2</text>
<text x="405.5" y="118.4" transform="rotate(398.1 405.5 118.4)" class="ll">0.4</text>
<text x="413.4" y="108.3" transform="rotate(398.1 413.4 108.3)" class="ll">0.6</text>
<text x="373.4" y="159.3" transform="rotate(398.1 373.4 159.3)" class="ll">0.2</text>
<text x="381.5" y="149" transform="rotate(398.1 381.5 149)" class="ll">0.4</text>
<text x="389.5" y="138.8" transform="rotate(398.1 389.5 138.8)" class="ll">0.6</text>
<text x="349.6" y="189.7" transform="rotate(398.1 349.6 189.7)" class="ll">0.2</text>
<text x="357.5" y="179.6" transform="rotate(398.1 357.5 179.6)" class="ll">0.4</text>
<text x="365.5" y="169.5" transform="rotate(398.1 365.5 169.5)" class="ll">0.6</text>
<text x="325.7" y="220.2" transform="rotate(398.1 325.7 220.2)" class="ll">0.2</text>
<text x="333.7" y="210" transform="rotate(398.1 333.7 210)" class="ll">0.4</text>
<text x="341.7" y="199.8" transform="rotate(398.1 341.7 199.8)" class="ll">0.6</text>
<text x="421.2" y="100.7" transform="rotate(398.6 421.2 100.7)" class="ll">0.1</text>
<text x="429.5" y="90.6" transform="rotate(398.6 429.5 90.6)" class="ll">0.3</text>
<text x="437.8" y="80.6" transform="rotate(398.6 437.8 80.6)" class="ll">0.5</text>
<path fill="none" stroke="#333333" stroke-width="0.8" d="M537.5 277.2L540.7 277.3M537.2 286L539.2 286.1M536.6 294.8L538.6 294.9M535.7 303.5L537.7 303.8M534.6 312.2L536.5 312.5M533.1 320.9L536.2 321.5M531.3 329.5L533.3 329.9M529.3 338.1L531.2 338.6M526.9 346.5L528.8 347.1M524.3 354.9L526.2 355.5M521.4 363.2L524.4 364.3M518.2 371.4L520 372.1M514.7 379.5L516.5 380.3M511 387.4L512.8 388.3M507 395.2L508.7 396.2M502.7 402.9L505.5 404.5M498.2 410.4L499.8 411.5M493.4 417.8L495 418.9M488.3 425L490 426.2M483.1 432L484.6 433.3M477.5 438.9L480 440.9M471.8 445.5L473.3 446.9M465.8 452L467.3 453.4M459.7 458.2L461.1 459.7M453.3 464.3L454.6 465.8M446.7 470.1L448.8 472.5M437.1 477.9L439.1 480.4M430.1 483.1L431.2 484.7M422.9 488.1L424 489.8M415.5 492.9L416.5 494.6M407.9 497.4L408.9 499.1M400.2 501.7L401.7 504.5M392.4 505.6L393.3 507.4M384.4 509.4L385.3 511.2M376.4 512.8L377.1 514.7M368.2 516L368.9 517.9M359.9 518.9L360.9 521.9M351.5 521.5L352 523.4M343 523.8L343.5 525.7M334.4 525.8L334.9 527.8M325.8 527.6L326.2 529.5M317.2 529L317.6 532.2M308.5 530.2L308.7 532.2M299.7 531L299.9 533M290.9 531.6L291 533.6M282.1 531.8L282.2 533.8M273.4 531.8L273.3 535M264.6 531.4L264.5 533.4M255.8 530.8L255.6 532.8M247.1 529.9L246.8 531.9M238.4 528.6L238.1 530.6M229.7 527.1L229.1 530.3M217.7 524.5L216.9 527.6M209.2 522.2L208.6 524.2M200.8 519.7L200.2 521.6M192.4 516.9L191.8 518.8M184.2 513.8L183.5 515.7M176.1 510.5L174.8 513.4M168.1 506.8L167.2 508.7M160.2 502.9L159.3 504.7M152.5 498.8L151.5 500.5M144.9 494.3L143.9 496M137.5 489.7L135.7 492.3M130.2 484.7L129 486.4M123.1 479.5L121.9 481.1M116.2 474.1L114.9 475.7M109.4 468.5L108.1 470M102.9 462.6L100.7 464.9M96.6 456.5L95.2 457.9M90.5 450.2L89 451.6M84.5 443.7L83 445M78.9 437L77.3 438.2M73.4 430.1L70.9 432M68.2 423L66.6 424.1M63.3 415.7L61.6 416.8M58.5 408.3L56.8 409.4M54.1 400.8L52.3 401.7M49.9 393L47 394.5M44.4 382L41.5 383.3M40.9 373.9L39 374.7M37.6 365.8L35.7 366.5M34.6 357.5L32.7 358.2M31.9 349.2L30 349.8M29.4 340.7L26.3 341.6M27.3 332.2L25.3 332.7M25.4 323.6L23.5 324M23.9 315L21.9 315.3M22.6 306.3L20.6 306.5M21.6 297.5L18.4 297.8M21 288.8L19 288.9M20.6 280L18.6 280.1M20.5 271.2L18.5 271.2M20.7 262.4L18.7 262.3M21.3 253.7L18.1 253.4M22.1 244.9L20.1 244.7M23.2 236.2L21.2 235.9M24.6 227.5L22.6 227.2M26.3 218.9L24.3 218.5M28.3 210.3L25.2 209.6M30.6 201.8L28.7 201.3M33.2 193.4L31.3 192.8M36 185.1L34.1 184.5M39.2 176.9L37.3 176.2M42.6 168.8L39.6 167.5M47.8 157.7L45 156.3M51.9 149.9L50.1 148.9M56.2 142.2L54.5 141.2M60.8 134.7L59.1 133.7M65.6 127.4L64 126.3M70.7 120.2L68.1 118.3M76 113.3L74.5 112M81.6 106.4L80.1 105.2M87.4 99.8L85.9 98.5M93.4 93.4L92 92M99.6 87.2L97.4 84.9M106.1 81.2L104.7 79.7M112.7 75.5L111.4 73.9M119.5 69.9L118.3 68.3M126.5 64.6L125.3 63M133.7 59.5L131.9 56.9M141.1 54.7L140 53M148.6 50.2L147.6 48.4M156.2 45.9L155.3 44.1M164 41.8L163.1 40M172 38.1L170.6 35.1M180 34.5L179.3 32.7M188.2 31.3L187.5 29.4M196.5 28.4L195.8 26.5M204.9 25.7L204.3 23.8M213.3 23.3L212.5 20.2M225.3 20.5L224.6 17.4M233.9 18.8L233.6 16.8M242.6 17.4L242.3 15.4M251.3 16.3L251.1 14.3M260.1 15.5L259.9 13.5M268.9 15L268.7 11.9M277.6 14.9L277.6 12.9M286.4 15L286.5 13M295.2 15.4L295.3 13.4M304 16.1L304.2 14.1M312.7 17.1L313.1 13.9M321.4 18.3L321.7 16.4M330 19.9L330.4 18M338.6 21.8L339.1 19.9M347.1 24L347.7 22.1M355.6 26.5L356.5 23.4M363.9 29.2L364.6 27.3M372.2 32.2L372.9 30.4M380.3 35.5L381.1 33.7M388.3 39.1L389.2 37.3M396.2 43L397.7 40.1M404 47.1L405 45.3M411.6 51.5L412.6 49.7M419.1 56.1L420.2 54.4M426.4 61L427.5 59.3M433.5 66.1L435.4 63.6M443.2 73.7L445.3 71.2M449.9 79.4L451.2 77.9M456.4 85.3L457.8 83.9M462.7 91.5L464.1 90.1M468.8 97.8L470.2 96.5M474.6 104.4L477 102.3M480.3 111.1L481.8 109.9M485.7 118.1L487.3 116.9M490.8 125.2L492.5 124M495.7 132.5L497.4 131.4M500.4 139.9L503.1 138.3M504.8 147.5L506.5 146.5M508.9 155.3L510.7 154.3M512.8 163.1L514.6 162.3M516.4 171.2L518.3 170.4M519.8 179.3L522.8 178.1M522.8 187.5L524.7 186.9M525.6 195.9L527.5 195.3M528.1 204.3L530 203.8M530.3 212.8L532.3 212.3M532.2 221.4L535.4 220.7M533.8 230L535.8 229.7M535.2 238.7L537.1 238.4M536.2 247.4L538.2 247.2M536.9 256.2L538.9 256M537.4 265L540.6 264.9"/>
<path fill="none" stroke="#444" stroke-width="0.7" d="M498.3 276.6L500.3 276.7M498 284.1L500 284.2M497.5 291.5L499.5 291.7M496.8 299L498.8 299.2M495.8 306.3L497.8 306.6M494.6 313.7L496.5 314.1M493.1 321L495 321.4M491.3 328.2L493.3 328.7M489.3 335.4L491.2 336M487.1 342.5L489 343.2M484.6 349.6L486.5 350.3M481.9 356.5L483.8 357.3M479 363.4L480.8 364.2M475.8 370.1L477.6 371M472.4 376.8L474.2 377.7M468.8 383.3L470.5 384.3M464.9 389.7L466.6 390.7M460.9 395.9L462.5 397M456.6 402L458.2 403.2M452.1 408L453.7 409.2M447.4 413.8L449 415.1M442.6 419.4L444.1 420.8M437.5 424.9L438.9 426.3M432.3 430.2L433.7 431.6M426.8 435.3L428.2 436.8M421.2 440.3L422.5 441.8M459.6 276.1L461.6 276.1M459.4 282.2L461.4 282.3M459 288.3L461 288.5M458.4 294.4L460.4 294.7M457.5 300.5L459.5 300.8M456.5 306.6L458.5 306.9M455.3 312.6L457.2 313M453.9 318.6L455.8 319.1M452.2 324.5L454.1 325M450.4 330.3L452.3 331M448.3 336.1L450.2 336.8M446.1 341.8L448 342.6M443.7 347.5L445.5 348.3M441.1 353L442.9 353.9M438.3 358.5L440 359.4M435.3 363.9L437 364.9M432.1 369.1L433.8 370.2M428.8 374.3L430.4 375.4M425.2 379.3L426.9 380.5M421.6 384.2L423.1 385.4M417.7 389L419.2 390.3M413.7 393.7L415.2 395M409.5 398.2L411 399.5M405.2 402.5L406.6 404M400.8 406.7L402.1 408.2M396.1 410.8L397.4 412.3M420.5 275.5L422.5 275.5M420.3 280.3L422.3 280.4M420 285.1L422 285.2M419.5 289.9L421.5 290.1M418.9 294.6L420.9 294.9M418.1 299.4L420.1 299.7M417.1 304.1L419.1 304.5M416 308.8L417.9 309.3M414.7 313.4L416.6 314M413.3 318L415.2 318.6M411.7 322.5L413.6 323.2M409.9 327L411.8 327.8M408 331.4L409.9 332.3M406 335.8L407.8 336.7M403.8 340.1L405.5 341M401.4 344.3L403.2 345.3M399 348.4L400.7 349.5M396.3 352.4L398 353.5M393.6 356.4L395.2 357.5M390.7 360.2L392.3 361.4M387.7 364L389.2 365.2M384.5 367.6L386 368.9M381.3 371.1L382.7 372.5M377.9 374.6L379.3 376M374.4 377.9L375.7 379.3M370.8 381L372.1 382.6M382 274.9L383.9 274.9M381.9 278.4L383.8 278.5M381.6 281.9L383.5 282M381.3 285.4L383.2 285.6M380.8 288.8L382.7 289.1M380.2 292.3L382.1 292.6M379.5 295.7L381.4 296.1M378.7 299.1L380.6 299.6M377.8 302.5L379.6 303M376.7 305.8L378.5 306.4M375.6 309.2L377.4 309.8M374.3 312.4L376.1 313.1M372.9 315.6L374.7 316.4M371.4 318.8L373.1 319.6M369.8 321.9L371.5 322.8M368.1 325L369.8 325.9M366.3 328L367.9 329M364.4 330.9L366 332M362.4 333.8L363.9 334.9M360.3 336.6L361.8 337.7M358.1 339.3L359.6 340.5M355.8 342L357.2 343.2M353.4 344.5L354.8 345.8M351 347L352.3 348.4M348.4 349.4L349.7 350.8M345.8 351.7L347 353.2M343.2 274.3L344.9 274.3M343.1 276.5L344.8 276.6M343 278.7L344.7 278.8M342.8 280.8L344.4 281M342.5 283L344.2 283.3M342.1 285.2L343.8 285.5M341.7 287.3L343.3 287.7M341.2 289.4L342.8 289.8M340.6 291.5L342.2 292M339.9 293.6L341.5 294.1M339.2 295.7L340.8 296.3M338.4 297.7L340 298.3M337.5 299.7L339.1 300.4M336.6 301.7L338.1 302.4M335.6 303.6L337.1 304.4M334.6 305.5L336 306.4M333.4 307.4L334.9 308.3M332.2 309.2L333.6 310.2M331 311L332.4 312M329.7 312.8L331 313.8M328.3 314.5L329.6 315.6M326.9 316.1L328.2 317.2M325.4 317.7L326.6 318.9M323.9 319.3L325.1 320.5M322.3 320.8L323.4 322M320.6 322.2L321.7 323.5M413.1 446.8L414.4 448.4M407.2 451.3L408.3 452.9M401 455.6L402.2 457.2M394.8 459.6L395.8 461.3M388.4 463.4L389.4 465.2M381.9 467L382.8 468.8M375.2 470.4L376.1 472.2M368.5 473.6L369.3 475.4M361.6 476.5L362.4 478.4M354.6 479.2L355.3 481.1M347.6 481.6L348.2 483.5M340.5 483.9L341 485.8M333.3 485.8L333.8 487.8M326 487.5L326.5 489.5M318.7 489L319.1 491M311.4 490.2L311.7 492.2M304 491.2L304.2 493.2M296.6 491.9L296.7 493.9M289.1 492.4L289.2 494.4M281.7 492.6L281.7 494.6M274.2 492.6L274.2 494.6M266.8 492.3L266.7 494.3M259.3 491.8L259.2 493.8M251.9 491L251.7 493M244.5 489.9L244.2 491.9M237.2 488.6L236.8 490.6M389.5 416.2L390.7 417.8M384.5 419.9L385.7 421.5M379.5 423.4L380.6 425.1M374.3 426.7L375.4 428.4M369.1 429.9L370.1 431.6M363.7 432.9L364.6 434.6M358.2 435.6L359.1 437.4M352.7 438.2L353.5 440.1M347 440.7L347.8 442.5M341.3 442.9L342 444.7M335.5 444.9L336.1 446.8M329.6 446.7L330.2 448.6M323.7 448.3L324.2 450.3M317.7 449.7L318.2 451.7M311.7 451L312.1 452.9M305.7 452L306 453.9M299.6 452.8L299.8 454.8M293.5 453.4L293.6 455.4M287.3 453.8L287.4 455.8M281.2 453.9L281.2 455.9M275.1 453.9L275 455.9M268.9 453.7L268.8 455.7M262.8 453.2L262.6 455.2M256.7 452.6L256.4 454.6M250.6 451.7L250.3 453.7M244.6 450.6L244.2 452.6M365.6 385.3L366.8 386.9M361.7 388.2L362.9 389.8M357.7 390.9L358.9 392.6M353.7 393.5L354.8 395.2M349.6 396L350.6 397.7M345.4 398.3L346.3 400.1M341.1 400.5L342 402.3M336.7 402.5L337.5 404.4M332.3 404.4L333 406.3M327.8 406.2L328.5 408M323.3 407.7L323.9 409.6M318.7 409.2L319.2 411.1M314 410.4L314.5 412.4M309.4 411.6L309.8 413.5M304.6 412.5L305 414.5M299.9 413.3L300.2 415.3M295.1 413.9L295.3 415.9M290.3 414.4L290.5 416.4M285.5 414.7L285.6 416.7M280.7 414.8L280.7 416.8M275.9 414.8L275.9 416.8M271.1 414.6L271 416.6M266.3 414.3L266.1 416.3M261.5 413.8L261.3 415.8M256.8 413.1L256.4 415.1M252 412.3L251.6 414.2M342 354.8L343.2 356.3M339.2 356.9L340.3 358.5M336.3 358.9L337.4 360.5M333.4 360.8L334.4 362.4M330.4 362.6L331.3 364.3M327.3 364.3L328.2 366M324.2 365.9L325 367.6M321 367.4L321.8 369.1M317.8 368.8L318.5 370.5M314.5 370L315.2 371.8M311.2 371.2L311.8 373M307.9 372.2L308.4 374M304.5 373.1L305 375M301.1 374L301.5 375.8M297.7 374.6L298 376.5M294.2 375.2L294.5 377.1M290.7 375.7L291 377.6M287.2 376L287.4 377.9M283.8 376.2L283.8 378.1M280.3 376.3L280.3 378.2M276.8 376.3L276.7 378.2M273.3 376.2L273.1 378.1M269.8 375.9L269.6 377.8M266.3 375.6L266 377.4M262.8 375.1L262.5 376.9M259.4 374.5L259 376.3M318.3 324.1L319.3 325.5M316.5 325.4L317.5 326.8M314.7 326.7L315.7 328.1M312.9 327.9L313.8 329.3M311 329L311.9 330.5M309.1 330.1L309.9 331.6M307.2 331L307.9 332.6M305.2 332L305.9 333.5M303.2 332.8L303.8 334.4M301.1 333.6L301.7 335.2M299.1 334.3L299.6 335.9M297 335L297.5 336.6M294.9 335.6L295.3 337.2M292.8 336.1L293.1 337.7M290.6 336.5L290.9 338.2M288.5 336.8L288.7 338.5M286.3 337.1L286.5 338.8M284.1 337.3L284.3 339M282 337.5L282 339.2M279.8 337.5L279.8 339.2M277.6 337.5L277.6 339.2M275.4 337.5L275.3 339.1M273.2 337.3L273.1 339M271.1 337.1L270.9 338.7M268.9 336.8L268.6 338.4M266.8 336.4L266.4 338M227 486.4L226.5 488.3M219.8 484.5L219.2 486.4M212.6 482.4L212 484.3M205.6 480L204.9 481.9M198.6 477.4L197.9 479.2M191.7 474.5L190.9 476.4M184.9 471.4L184 473.2M178.2 468.1L177.3 469.9M171.7 464.6L170.7 466.3M165.2 460.8L164.2 462.5M158.9 456.9L157.8 458.5M152.8 452.7L151.6 454.3M146.7 448.3L145.5 449.9M140.9 443.7L139.6 445.2M135.1 438.9L133.8 440.4M129.6 433.9L128.2 435.4M124.2 428.7L122.8 430.1M119 423.4L117.6 424.7M114 417.8L112.5 419.2M109.2 412.2L107.7 413.4M104.6 406.3L103 407.5M100.2 400.3L98.5 401.5M96 394.1L94.3 395.2M92 387.9L90.3 388.9M88.2 381.4L86.4 382.4M84.6 374.9L82.8 375.8M236.2 448.8L235.7 450.7M230.2 447.2L229.7 449.2M224.3 445.5L223.7 447.4M218.5 443.5L217.9 445.4M212.8 441.4L212 443.2M207.1 439L206.3 440.9M201.5 436.5L200.7 438.3M196 433.8L195.1 435.5M190.6 430.8L189.6 432.6M185.3 427.7L184.3 429.5M180.1 424.5L179 426.1M175 421L173.9 422.7M170.1 417.4L168.9 419M165.2 413.6L164 415.2M160.5 409.7L159.2 411.2M156 405.6L154.6 407M151.5 401.3L150.1 402.7M147.3 396.9L145.8 398.3M143.1 392.3L141.6 393.7M139.2 387.7L137.6 388.9M135.4 382.8L133.8 384.1M131.7 377.9L130.1 379.1M128.3 372.8L126.6 373.9M125 367.6L123.3 368.7M121.9 362.4L120.1 363.3M118.9 357L117.1 357.9M245.4 410.8L245 412.8M240.8 409.6L240.2 411.5M236.2 408.2L235.6 410.1M231.6 406.7L230.9 408.6M227.1 405L226.4 406.9M222.7 403.2L221.9 405M218.3 401.2L217.4 403M214 399L213.1 400.8M209.7 396.7L208.8 398.5M205.6 394.3L204.6 396M201.5 391.8L200.4 393.4M197.5 389L196.4 390.7M193.7 386.2L192.4 387.8M189.9 383.2L188.6 384.8M186.2 380.2L184.9 381.7M182.6 376.9L181.2 378.4M179.1 373.6L177.7 375M175.8 370.1L174.3 371.5M172.6 366.6L171.1 367.9M169.5 362.9L167.9 364.2M166.5 359.1L164.9 360.3M163.6 355.3L162 356.4M160.9 351.3L159.2 352.4M158.3 347.2L156.6 348.3M155.9 343.1L154.1 344.1M153.6 338.9L151.8 339.8M254.6 373.4L254.1 375.3M251.2 372.5L250.7 374.4M247.8 371.5L247.3 373.3M244.5 370.4L243.9 372.2M241.2 369.2L240.5 370.9M238 367.8L237.2 369.6M234.8 366.4L234 368.1M231.7 364.8L230.8 366.5M228.6 363.2L227.7 364.8M225.6 361.4L224.6 363M222.6 359.5L221.6 361.1M219.7 357.6L218.6 359.1M216.9 355.5L215.7 357M214.1 353.3L212.9 354.8M211.4 351.1L210.2 352.5M208.8 348.8L207.5 350.1M206.3 346.3L205 347.7M203.9 343.8L202.5 345.1M201.5 341.2L200.1 342.5M199.3 338.5L197.8 339.7M197.1 335.8L195.6 336.9M195 333L193.5 334.1M193 330.1L191.4 331.1M191.2 327.1L189.5 328.1M189.4 324.1L187.7 325M187.7 321L186 321.9M263.8 335.7L263.4 337.4M261.7 335.2L261.2 336.8M259.6 334.5L259.1 336.2M257.5 333.8L256.9 335.4M255.5 333.1L254.8 334.7M253.4 332.2L252.8 333.8M251.5 331.3L250.7 332.9M249.5 330.4L248.7 331.9M247.6 329.3L246.7 330.8M245.7 328.2L244.8 329.7M243.8 327.1L242.9 328.5M242 325.8L241.1 327.2M240.3 324.6L239.3 325.9M238.6 323.2L237.5 324.5M236.9 321.8L235.8 323.1M235.3 320.3L234.1 321.6M233.7 318.8L232.5 320M232.2 317.3L230.9 318.4M230.7 315.7L229.4 316.8M229.3 314L228 315.1M227.9 312.3L226.6 313.3M226.7 310.5L225.3 311.5M225.4 308.7L224 309.6M224.2 306.9L222.8 307.8M223.1 305L221.7 305.8M222.1 303.1L220.6 303.9M80 365.5L78.2 366.4M77 358.7L75.1 359.5M74.2 351.8L72.3 352.5M71.7 344.8L69.8 345.4M69.3 337.7L67.4 338.3M67.3 330.5L65.4 331M65.5 323.3L63.5 323.7M63.9 316L61.9 316.4M62.6 308.7L60.6 309M61.5 301.3L59.5 301.5M60.7 293.9L58.7 294.1M60.1 286.4L58.1 286.6M59.8 279L57.8 279M59.7 271.5L57.7 271.5M59.9 264.1L57.9 264M60.3 256.6L58.3 256.5M61 249.2L59 249M62 241.8L60 241.5M63.2 234.5L61.2 234.1M64.6 227.1L62.7 226.7M66.3 219.9L64.4 219.4M68.3 212.7L66.3 212.1M70.4 205.6L68.5 204.9M72.9 198.5L71 197.8M75.5 191.5L73.7 190.8M78.4 184.7L76.6 183.9M115.1 349.2L113.3 350.1M112.6 343.6L110.8 344.4M110.3 337.9L108.5 338.7M108.2 332.2L106.4 332.8M106.3 326.3L104.4 326.9M104.6 320.4L102.7 320.9M103.1 314.5L101.2 314.9M101.8 308.5L99.9 308.9M100.8 302.4L98.8 302.8M99.9 296.4L97.9 296.6M99.2 290.3L97.2 290.4M98.7 284.1L96.7 284.2M98.5 278L96.5 278M98.4 271.9L96.4 271.8M98.6 265.7L96.6 265.6M98.9 259.6L96.9 259.4M99.5 253.5L97.5 253.3M100.3 247.4L98.3 247.1M101.3 241.3L99.3 241M102.5 235.3L100.5 234.9M103.8 229.3L101.9 228.8M105.4 223.4L103.5 222.8M107.2 217.5L105.3 216.9M109.2 211.7L107.4 211M111.4 206L109.6 205.2M113.8 200.3L112 199.5M150.6 332.8L148.8 333.7M148.7 328.4L146.8 329.2M146.9 324L145 324.7M145.2 319.4L143.3 320.1M143.7 314.9L141.8 315.4M142.4 310.2L140.5 310.8M141.2 305.6L139.3 306M140.2 300.9L138.2 301.3M139.3 296.1L137.4 296.5M138.7 291.4L136.7 291.6M138.1 286.6L136.1 286.8M137.8 281.8L135.8 281.9M137.5 277L135.5 277M137.5 272.2L135.5 272.2M137.6 267.4L135.6 267.3M137.9 262.6L135.9 262.4M138.4 257.8L136.4 257.6M139 253L137 252.7M139.7 248.3L137.8 247.9M140.7 243.5L138.7 243.1M141.8 238.9L139.8 238.4M143 234.2L141.1 233.7M144.4 229.6L142.5 229M146 225.1L144.1 224.4M147.7 220.6L145.9 219.8M149.6 216.1L147.8 215.3M185.5 316.6L183.8 317.4M184.1 313.4L182.4 314.2M182.8 310.2L181 310.9M181.6 306.9L179.8 307.5M180.5 303.6L178.7 304.1M179.6 300.2L177.7 300.7M178.7 296.8L176.9 297.2M178 293.4L176.1 293.8M177.3 289.9L175.5 290.2M176.8 286.5L175 286.7M176.5 283L174.6 283.2M176.2 279.5L174.3 279.6M176 276L174.1 276M176 272.5L174.1 272.5M176.1 269L174.2 268.9M176.3 265.5L174.4 265.4M176.6 262L174.7 261.8M177.1 258.5L175.2 258.3M177.6 255.1L175.8 254.7M178.3 251.7L176.5 251.3M179.1 248.2L177.3 247.8M180 244.9L178.2 244.3M181 241.5L179.2 240.9M182.2 238.2L180.4 237.6M183.4 234.9L181.7 234.2M184.8 231.7L183.1 230.9M220.7 300.3L219.2 301M219.9 298.3L218.3 299M219 296.3L217.5 296.9M218.3 294.3L216.7 294.8M217.6 292.2L216 292.7M217 290.1L215.4 290.5M216.5 288L214.8 288.4M216 285.8L214.4 286.2M215.6 283.7L214 284M215.3 281.5L213.6 281.7M215.1 279.4L213.4 279.5M214.9 277.2L213.2 277.3M214.8 275L213.1 275M214.8 272.8L213.1 272.8M214.9 270.6L213.2 270.6M215 268.5L213.3 268.3M215.2 266.3L213.5 266.1M215.5 264.1L213.8 263.9M215.8 262L214.1 261.7M216.2 259.8L214.6 259.5M216.7 257.7L215.1 257.3M217.3 255.6L215.7 255.1M217.9 253.5L216.3 253M218.7 251.4L217.1 250.9M219.4 249.4L217.9 248.8M220.3 247.4L218.7 246.7M82.9 175.2L81.1 174.3M86.3 168.6L84.6 167.7M90 162.1L88.3 161.1M93.9 155.8L92.2 154.7M98 149.5L96.3 148.4M102.3 143.5L100.7 142.3M106.8 137.5L105.3 136.3M111.5 131.8L110 130.5M116.4 126.1L115 124.8M121.5 120.7L120.1 119.3M126.8 115.4L125.4 114M132.3 110.4L130.9 108.9M137.9 105.5L136.6 103.9M143.7 100.8L142.5 99.2M149.6 96.3L148.5 94.7M155.7 92L154.6 90.3M162 87.9L160.9 86.2M168.3 84L167.3 82.3M174.8 80.4L173.9 78.6M181.5 76.9L180.6 75.1M188.2 73.7L187.4 71.9M195 70.8L194.3 68.9M202 68L201.3 66.2M209 65.5L208.4 63.6M216.1 63.3L215.5 61.3M223.3 61.2L222.8 59.3M117.5 192.5L115.7 191.6M120.3 187.1L118.6 186.1M123.4 181.8L121.6 180.7M126.6 176.5L124.9 175.4M129.9 171.4L128.3 170.3M133.5 166.4L131.9 165.2M137.2 161.5L135.6 160.3M141.1 156.7L139.6 155.5M145.1 152.1L143.7 150.8M149.3 147.6L147.9 146.2M153.7 143.3L152.3 141.9M158.2 139.1L156.8 137.6M162.8 135.1L161.5 133.6M167.6 131.2L166.3 129.6M172.5 127.5L171.3 125.9M177.5 124L176.4 122.3M182.6 120.6L181.6 118.9M187.9 117.4L186.9 115.7M193.2 114.4L192.3 112.7M198.7 111.6L197.8 109.8M204.2 109L203.4 107.1M209.9 106.5L209.1 104.7M215.6 104.3L214.9 102.4M221.3 102.2L220.7 100.3M227.2 100.3L226.6 98.4M233.1 98.7L232.6 96.7M152.5 210L150.7 209.1M154.7 205.8L152.9 204.8M157 201.6L155.3 200.6M159.6 197.5L157.9 196.4M162.2 193.5L160.6 192.3M165 189.5L163.4 188.4M167.9 185.7L166.3 184.5M170.9 182L169.4 180.7M174.1 178.4L172.6 177M177.4 174.9L176 173.5M180.8 171.5L179.4 170M184.3 168.2L183 166.7M188 165L186.7 163.5M191.7 162L190.5 160.4M195.5 159.1L194.4 157.5M199.5 156.3L198.3 154.7M203.5 153.7L202.4 152M207.6 151.2L206.6 149.5M211.8 148.8L210.8 147.1M216.1 146.6L215.2 144.8M220.4 144.5L219.6 142.7M224.8 142.6L224.1 140.8M229.3 140.9L228.6 139M233.8 139.3L233.2 137.4M238.4 137.8L237.8 135.9M243 136.5L242.5 134.6M186.9 227.3L185.2 226.4M188.5 224.2L186.8 223.3M190.2 221.1L188.6 220.1M192.1 218.1L190.5 217.1M194 215.2L192.4 214.1M196 212.3L194.5 211.2M198.1 209.6L196.6 208.4M200.3 206.8L198.9 205.6M202.7 204.2L201.2 202.9M205 201.7L203.7 200.3M207.5 199.2L206.2 197.8M210.1 196.8L208.8 195.4M212.7 194.5L211.5 193M215.5 192.3L214.3 190.8M218.2 190.2L217.1 188.6M221.1 188.2L220 186.6M224 186.2L223 184.6M227 184.4L226.1 182.8M230.1 182.7L229.2 181M233.2 181.1L232.3 179.4M236.4 179.6L235.6 177.9M239.6 178.2L238.8 176.4M242.8 176.9L242.2 175.1M246.1 175.7L245.5 173.9M249.5 174.7L248.9 172.9M252.8 173.7L252.3 171.9M221.6 244.6L220.1 243.9M222.6 242.7L221.1 241.9M223.7 240.8L222.2 239.9M224.8 238.9L223.4 238M226 237.1L224.6 236.1M227.3 235.3L225.9 234.3M228.6 233.6L227.3 232.5M230 231.9L228.7 230.8M231.4 230.3L230.2 229.1M232.9 228.7L231.7 227.5M234.5 227.1L233.3 225.9M236 225.6L234.9 224.4M237.7 224.2L236.6 222.9M239.4 222.8L238.3 221.5M241.1 221.5L240.1 220.1M242.9 220.3L242 218.8M244.7 219.1L243.8 217.6M246.6 217.9L245.7 216.5M248.5 216.9L247.7 215.4M250.4 215.8L249.7 214.3M252.4 214.9L251.7 213.4M254.4 214L253.8 212.5M256.4 213.2L255.9 211.6M258.5 212.5L258 210.9M260.6 211.8L260.1 210.2M262.7 211.3L262.3 209.6M233.4 58.8L233 56.9M240.8 57.4L240.4 55.4M248.1 56.2L247.8 54.3M255.5 55.3L255.3 53.3M262.9 54.6L262.8 52.6M270.4 54.2L270.3 52.2M277.8 54.1L277.8 52.1M285.3 54.1L285.4 52.1M292.7 54.5L292.9 52.5M300.2 55.1L300.4 53.1M307.6 55.9L307.8 53.9M315 57L315.3 55M322.3 58.4L322.7 56.4M329.6 60L330 58M336.8 61.8L337.3 59.9M344 63.9L344.6 62M351 66.2L351.7 64.3M358 68.8L358.8 66.9M364.9 71.6L365.7 69.8M371.8 74.6L372.6 72.8M378.5 77.9L379.4 76.1M385 81.4L386 79.6M391.5 85.1L392.5 83.4M397.8 89L398.9 87.4M404 93.2L405.2 91.5M410.1 97.5L411.3 95.9M241.5 96.7L241.1 94.7M247.5 95.5L247.2 93.5M253.6 94.5L253.3 92.6M259.7 93.8L259.5 91.8M265.8 93.2L265.6 91.2M271.9 92.9L271.8 90.9M278 92.8L278 90.8M284.2 92.8L284.2 90.8M290.3 93.1L290.4 91.1M296.4 93.6L296.6 91.6M302.5 94.3L302.8 92.3M308.6 95.2L308.9 93.2M314.7 96.3L315 94.3M320.7 97.6L321.1 95.7M326.6 99.1L327.1 97.2M332.5 100.9L333.1 98.9M338.3 102.8L339 100.9M344.1 104.9L344.8 103M349.8 107.2L350.6 105.4M355.4 109.7L356.2 107.9M360.9 112.4L361.8 110.6M366.3 115.3L367.3 113.5M371.7 118.3L372.7 116.6M376.9 121.6L378 119.9M382 125L383.1 123.3M387 128.6L388.2 127M249.6 134.9L249.2 133M254.3 134L254 132M259.1 133.3L258.8 131.3M263.9 132.7L263.6 130.7M268.6 132.2L268.5 130.2M273.4 132L273.4 130M278.3 131.9L278.2 129.9M283.1 131.9L283.1 129.9M287.9 132.1L288 130.1M292.7 132.5L292.9 130.5M297.4 133.1L297.7 131.1M302.2 133.8L302.5 131.8M306.9 134.6L307.3 132.7M311.6 135.7L312.1 133.7M316.3 136.9L316.8 134.9M320.9 138.2L321.5 136.3M325.5 139.7L326.1 137.8M330 141.4L330.7 139.5M334.5 143.2L335.2 141.3M338.8 145.1L339.7 143.3M343.2 147.2L344.1 145.5M347.4 149.5L348.4 147.7M351.6 151.9L352.6 150.2M355.7 154.4L356.8 152.7M359.7 157.1L360.8 155.5M363.6 159.9L364.8 158.3M257.6 172.6L257.2 170.7M261 171.9L260.7 170.1M264.5 171.4L264.2 169.5M268 170.9L267.8 169.1M271.5 170.6L271.3 168.7M275 170.4L274.9 168.5M278.5 170.4L278.4 168.5M282 170.4L282 168.5M285.5 170.6L285.6 168.7M288.9 170.8L289.1 168.9M292.4 171.2L292.7 169.3M295.9 171.7L296.2 169.9M299.3 172.4L299.7 170.5M302.8 173.1L303.2 171.3M306.1 174L306.6 172.2M309.5 175L310.1 173.2M312.8 176.1L313.5 174.3M316.1 177.3L316.8 175.5M319.4 178.6L320.1 176.8M322.6 180L323.4 178.3M325.7 181.6L326.6 179.9M328.8 183.2L329.7 181.5M331.8 184.9L332.8 183.3M334.8 186.8L335.8 185.2M337.7 188.7L338.8 187.2M340.6 190.8L341.7 189.3M265.7 210.6L265.3 208.9M267.8 210.1L267.5 208.5M270 209.8L269.7 208.1M272.1 209.5L271.9 207.8M274.3 209.3L274.2 207.6M276.5 209.2L276.4 207.5M278.7 209.2L278.7 207.5M280.8 209.2L280.9 207.5M283 209.3L283.1 207.6M285.2 209.5L285.4 207.8M287.4 209.7L287.6 208M289.5 210L289.8 208.3M291.7 210.4L292 208.7M293.8 210.9L294.2 209.2M295.9 211.4L296.4 209.8M298 212L298.5 210.4M300.1 212.7L300.6 211.1M302.1 213.5L302.8 211.9M304.2 214.3L304.8 212.7M306.2 215.2L306.9 213.6M308.1 216.1L308.9 214.6M310 217.2L310.9 215.7M311.9 218.2L312.8 216.8M313.8 219.4L314.7 218M315.6 220.6L316.6 219.2M317.4 221.9L318.4 220.5M418.3 104L419.6 102.4M424 108.8L425.3 107.3M429.5 113.8L430.9 112.4M434.8 119.1L436.3 117.6M440 124.4L441.5 123.1M445 130L446.5 128.7M449.7 135.7L451.3 134.5M454.3 141.6L455.9 140.4M458.7 147.6L460.3 146.5M462.9 153.8L464.5 152.7M466.8 160.1L468.5 159.1M470.6 166.6L472.3 165.6M474.1 173.2L475.9 172.2M477.4 179.9L479.2 179M480.4 186.6L482.3 185.9M483.3 193.5L485.1 192.8M485.9 200.5L487.7 199.9M488.2 207.6L490.1 207M490.3 214.8L492.3 214.2M492.2 222L494.1 221.5M493.8 229.3L495.8 228.9M495.2 236.6L497.2 236.2M496.3 244L498.3 243.7M497.2 251.4L499.2 251.2M497.8 258.8L499.8 258.7M498.2 266.2L500.2 266.2M393.7 133.9L395 132.3M398.4 137.9L399.7 136.4M402.9 142L404.3 140.5M407.3 146.3L408.8 144.9M411.6 150.7L413 149.4M415.7 155.3L417.2 154M419.6 160L421.2 158.8M423.4 164.9L425 163.7M427 169.8L428.6 168.7M430.4 174.9L432.1 173.8M433.7 180.1L435.4 179.1M436.8 185.4L438.5 184.5M439.7 190.8L441.4 189.9M442.4 196.4L444.2 195.5M444.9 201.9L446.7 201.2M447.2 207.6L449.1 206.9M449.4 213.4L451.2 212.7M451.3 219.2L453.2 218.6M453 225.1L455 224.6M454.6 231L456.5 230.6M455.9 237L457.9 236.6M457 243.1L459 242.7M458 249.1L460 248.9M458.7 255.2L460.7 255M459.2 261.4L461.2 261.2M459.5 267.5L461.5 267.4M368.9 164.1L370.2 162.5M372.6 167.2L373.9 165.7M376.1 170.4L377.5 169M379.6 173.8L381 172.4M382.9 177.3L384.3 175.9M386.1 180.9L387.6 179.5M389.2 184.5L390.7 183.3M392.1 188.3L393.7 187.1M394.9 192.2L396.6 191.1M397.6 196.2L399.3 195.1M400.2 200.3L401.9 199.3M402.6 204.5L404.3 203.5M404.9 208.7L406.6 207.8M407 213L408.8 212.2M409 217.4L410.8 216.6M410.8 221.9L412.7 221.1M412.5 226.4L414.4 225.7M414 230.9L415.9 230.3M415.4 235.5L417.3 235M416.6 240.2L418.5 239.7M417.6 244.9L419.6 244.5M418.5 249.6L420.5 249.3M419.2 254.4L421.2 254.1M419.8 259.2L421.8 259M420.2 264L422.2 263.8M420.4 268.8L422.4 268.7M344.4 193.8L345.6 192.3M347.1 196.1L348.4 194.6M349.7 198.4L351 197.1M352.2 200.9L353.5 199.5M354.6 203.4L356 202.1M356.9 206L358.4 204.8M359.2 208.7L360.7 207.5M361.3 211.5L362.9 210.3M363.4 214.3L365 213.2M365.4 217.2L366.9 216.2M367.2 220.2L368.8 219.2M369 223.2L370.6 222.3M370.6 226.3L372.3 225.4M372.2 229.4L373.9 228.6M373.6 232.6L375.4 231.9M374.9 235.9L376.7 235.2M376.2 239.2L377.9 238.5M377.3 242.5L379.1 241.9M378.3 245.8L380.1 245.3M379.1 249.2L381 248.8M379.9 252.6L381.8 252.3M380.5 256.1L382.4 255.8M381.1 259.5L383 259.3M381.5 263L383.4 262.8M381.8 266.5L383.7 266.4M381.9 270L383.8 269.9M319.8 223.8L320.9 222.5M321.4 225.2L322.6 223.9M323.1 226.7L324.2 225.4M324.6 228.2L325.8 227M326.1 229.8L327.4 228.6M327.6 231.4L328.9 230.3M329 233.1L330.3 232M330.3 234.8L331.7 233.8M331.6 236.5L333 235.6M332.8 238.4L334.3 237.4M334 240.2L335.4 239.3M335.1 242.1L336.6 241.3M336.1 244L337.6 243.2M337.1 246L338.6 245.3M338 248L339.5 247.3M338.8 250L340.4 249.4M339.6 252L341.2 251.5M340.2 254.1L341.9 253.6M340.9 256.2L342.5 255.7M341.4 258.3L343.1 257.9M341.9 260.4L343.6 260.1M342.3 262.6L344 262.3M342.6 264.7L344.3 264.5M342.9 266.9L344.6 266.7M343.1 269.1L344.8 269M343.2 271.3L344.9 271.2"/>
<text x="538.8" y="322" transform="rotate(-79.4 538.8 322)" class="tl">50</text>
<text x="526.8" y="365.2" transform="rotate(-69.7 526.8 365.2)" class="tl">100</text>
<text x="507.7" y="405.8" transform="rotate(-59.9 507.7 405.8)" class="tl">150</text>
<text x="482" y="442.6" transform="rotate(-50.2 482 442.6)" class="tl">200</text>
<text x="450.4" y="474.5" transform="rotate(-40.4 450.4 474.5)" class="tl">250</text>
<text x="523.7" y="388.6" transform="rotate(115.2 523.7 388.6)" class="cl">1H</text>
<text x="403" y="506.8" transform="rotate(-28 403 506.8)" class="tl">50</text>
<text x="361.7" y="524.4" transform="rotate(-18.2 361.7 524.4)" class="tl">100</text>
<text x="318" y="534.8" transform="rotate(-8.5 318 534.8)" class="tl">150</text>
<text x="273.2" y="537.6" transform="rotate(1.2 273.2 537.6)" class="tl">200</text>
<text x="228.6" y="532.8" transform="rotate(11 228.6 532.8)" class="tl">250</text>
<text x="341.5" y="536.5" transform="rotate(166.6 341.5 536.5)" class="cl">2H</text>
<text x="173.8" y="515.8" transform="rotate(23.5 173.8 515.8)" class="tl">50</text>
<text x="134.3" y="494.5" transform="rotate(33.2 134.3 494.5)" class="tl">100</text>
<text x="99" y="466.8" transform="rotate(42.9 99 466.8)" class="tl">150</text>
<text x="68.8" y="433.6" transform="rotate(52.7 68.8 433.6)" class="tl">200</text>
<text x="44.7" y="395.7" transform="rotate(62.4 44.7 395.7)" class="tl">250</text>
<text x="112.2" y="486.3" transform="rotate(218.1 112.2 486.3)" class="cl">3H</text>
<text x="23.8" y="342.2" transform="rotate(74.9 23.8 342.2)" class="tl">50</text>
<text x="15.9" y="298.1" transform="rotate(84.6 15.9 298.1)" class="tl">100</text>
<text x="15.5" y="253.2" transform="rotate(-85.6 15.5 253.2)" class="tl">150</text>
<text x="22.7" y="208.9" transform="rotate(-75.9 22.7 208.9)" class="tl">200</text>
<text x="37.3" y="166.5" transform="rotate(-66.1 37.3 166.5)" class="tl">250</text>
<text x="8.5" y="275.7" transform="rotate(269.5 8.5 275.7)" class="cl">4H</text>
<text x="66" y="116.8" transform="rotate(-53.7 66 116.8)" class="tl">50</text>
<text x="95.6" y="83" transform="rotate(-43.9 95.6 83)" class="tl">100</text>
<text x="130.4" y="54.8" transform="rotate(-34.2 130.4 54.8)" class="tl">150</text>
<text x="169.6" y="32.8" transform="rotate(-24.5 169.6 32.8)" class="tl">200</text>
<text x="211.8" y="17.7" transform="rotate(-14.7 211.8 17.7)" class="tl">250</text>
<text x="108.5" y="63.3" transform="rotate(320.9 108.5 63.3)" class="cl">5H</text>
<text x="268.6" y="9.3" transform="rotate(-2.2 268.6 9.3)" class="tl">50</text>
<text x="313.5" y="11.3" transform="rotate(7.5 313.5 11.3)" class="tl">100</text>
<text x="357.3" y="20.9" transform="rotate(17.2 357.3 20.9)" class="tl">150</text>
<text x="398.9" y="37.8" transform="rotate(27 398.9 37.8)" class="tl">200</text>
<text x="437" y="61.5" transform="rotate(36.7 437 61.5)" class="tl">250</text>
<text x="336.9" y="9.1" transform="rotate(372.4 336.9 9.1)" class="cl">6H</text>
<text x="479" y="100.6" transform="rotate(49.2 479 100.6)" class="tl">50</text>
<text x="505.4" y="136.9" transform="rotate(58.9 505.4 136.9)" class="tl">100</text>
<text x="525.2" y="177.2" transform="rotate(68.7 525.2 177.2)" class="tl">150</text>
<text x="537.9" y="220.2" transform="rotate(78.4 537.9 220.2)" class="tl">200</text>
<text x="543.2" y="264.8" transform="rotate(88.1 543.2 264.8)" class="tl">250</text>
<text x="521.7" y="153.9" transform="rotate(423.8 521.7 153.9)" class="cl">7H</text>
<text x="232" y="28.4" class="pl">(a)</text>
<text x="220" y="71" class="pl">(b)</text>
<text x="247.5" y="104" class="pl">(c)</text>
<text x="238" y="146.5" class="pl">(d)</text>
<text x="263.5" y="181" class="pl">(e)</text>
</svg>
</body></html>
